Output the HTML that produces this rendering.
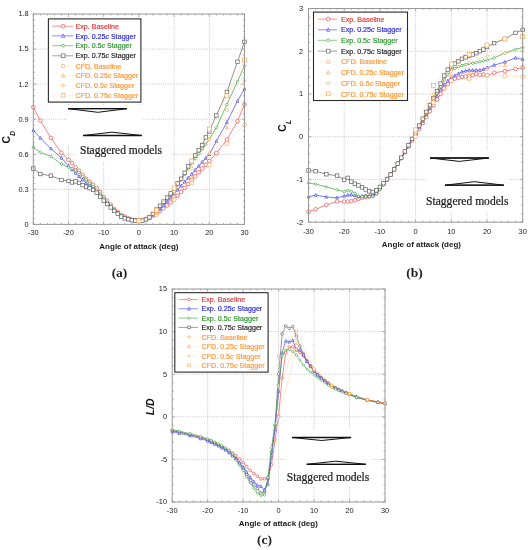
<!DOCTYPE html>
<html lang="en"><head><meta charset="utf-8"><title>Staggered models: aerodynamic coefficients</title>
<style>html,body{margin:0;padding:0;background:#fff}body{width:528px;height:550px;overflow:hidden}svg text{white-space:pre}</style></head>
<body>
<svg width="528" height="550" viewBox="0 0 528 550" style="display:block">
<rect width="528" height="550" fill="#fff"/>
<g><line x1="68.50" y1="14.0" x2="68.50" y2="224.4" stroke="#b4b4b4" stroke-width="0.8" stroke-dasharray="0.9 1.3"/>
<line x1="103.70" y1="14.0" x2="103.70" y2="224.4" stroke="#b4b4b4" stroke-width="0.8" stroke-dasharray="0.9 1.3"/>
<line x1="138.90" y1="14.0" x2="138.90" y2="224.4" stroke="#b4b4b4" stroke-width="0.8" stroke-dasharray="0.9 1.3"/>
<line x1="174.10" y1="14.0" x2="174.10" y2="224.4" stroke="#b4b4b4" stroke-width="0.8" stroke-dasharray="0.9 1.3"/>
<line x1="209.30" y1="14.0" x2="209.30" y2="224.4" stroke="#b4b4b4" stroke-width="0.8" stroke-dasharray="0.9 1.3"/>
<line x1="33.3" y1="189.33" x2="244.5" y2="189.33" stroke="#b4b4b4" stroke-width="0.8" stroke-dasharray="0.9 1.3"/>
<line x1="33.3" y1="154.27" x2="244.5" y2="154.27" stroke="#b4b4b4" stroke-width="0.8" stroke-dasharray="0.9 1.3"/>
<line x1="33.3" y1="119.20" x2="244.5" y2="119.20" stroke="#b4b4b4" stroke-width="0.8" stroke-dasharray="0.9 1.3"/>
<line x1="33.3" y1="84.13" x2="244.5" y2="84.13" stroke="#b4b4b4" stroke-width="0.8" stroke-dasharray="0.9 1.3"/>
<line x1="33.3" y1="49.07" x2="244.5" y2="49.07" stroke="#b4b4b4" stroke-width="0.8" stroke-dasharray="0.9 1.3"/>
<path d="M33.30 224.4v-2.6M33.30 14.0v2.6M40.34 224.4v-1.5M40.34 14.0v1.5M47.38 224.4v-1.5M47.38 14.0v1.5M54.42 224.4v-1.5M54.42 14.0v1.5M61.46 224.4v-1.5M61.46 14.0v1.5M68.50 224.4v-2.6M68.50 14.0v2.6M75.54 224.4v-1.5M75.54 14.0v1.5M82.58 224.4v-1.5M82.58 14.0v1.5M89.62 224.4v-1.5M89.62 14.0v1.5M96.66 224.4v-1.5M96.66 14.0v1.5M103.70 224.4v-2.6M103.70 14.0v2.6M110.74 224.4v-1.5M110.74 14.0v1.5M117.78 224.4v-1.5M117.78 14.0v1.5M124.82 224.4v-1.5M124.82 14.0v1.5M131.86 224.4v-1.5M131.86 14.0v1.5M138.90 224.4v-2.6M138.90 14.0v2.6M145.94 224.4v-1.5M145.94 14.0v1.5M152.98 224.4v-1.5M152.98 14.0v1.5M160.02 224.4v-1.5M160.02 14.0v1.5M167.06 224.4v-1.5M167.06 14.0v1.5M174.10 224.4v-2.6M174.10 14.0v2.6M181.14 224.4v-1.5M181.14 14.0v1.5M188.18 224.4v-1.5M188.18 14.0v1.5M195.22 224.4v-1.5M195.22 14.0v1.5M202.26 224.4v-1.5M202.26 14.0v1.5M209.30 224.4v-2.6M209.30 14.0v2.6M216.34 224.4v-1.5M216.34 14.0v1.5M223.38 224.4v-1.5M223.38 14.0v1.5M230.42 224.4v-1.5M230.42 14.0v1.5M237.46 224.4v-1.5M237.46 14.0v1.5M244.50 224.4v-2.6M244.50 14.0v2.6M33.3 224.40h2.6M244.5 224.40h-2.6M33.3 218.56h1.5M244.5 218.56h-1.5M33.3 212.71h1.5M244.5 212.71h-1.5M33.3 206.87h1.5M244.5 206.87h-1.5M33.3 201.02h1.5M244.5 201.02h-1.5M33.3 195.18h1.5M244.5 195.18h-1.5M33.3 189.33h2.6M244.5 189.33h-2.6M33.3 183.49h1.5M244.5 183.49h-1.5M33.3 177.64h1.5M244.5 177.64h-1.5M33.3 171.80h1.5M244.5 171.80h-1.5M33.3 165.96h1.5M244.5 165.96h-1.5M33.3 160.11h1.5M244.5 160.11h-1.5M33.3 154.27h2.6M244.5 154.27h-2.6M33.3 148.42h1.5M244.5 148.42h-1.5M33.3 142.58h1.5M244.5 142.58h-1.5M33.3 136.73h1.5M244.5 136.73h-1.5M33.3 130.89h1.5M244.5 130.89h-1.5M33.3 125.04h1.5M244.5 125.04h-1.5M33.3 119.20h2.6M244.5 119.20h-2.6M33.3 113.36h1.5M244.5 113.36h-1.5M33.3 107.51h1.5M244.5 107.51h-1.5M33.3 101.67h1.5M244.5 101.67h-1.5M33.3 95.82h1.5M244.5 95.82h-1.5M33.3 89.98h1.5M244.5 89.98h-1.5M33.3 84.13h2.6M244.5 84.13h-2.6M33.3 78.29h1.5M244.5 78.29h-1.5M33.3 72.44h1.5M244.5 72.44h-1.5M33.3 66.60h1.5M244.5 66.60h-1.5M33.3 60.76h1.5M244.5 60.76h-1.5M33.3 54.91h1.5M244.5 54.91h-1.5M33.3 49.07h2.6M244.5 49.07h-2.6M33.3 43.22h1.5M244.5 43.22h-1.5M33.3 37.38h1.5M244.5 37.38h-1.5M33.3 31.53h1.5M244.5 31.53h-1.5M33.3 25.69h1.5M244.5 25.69h-1.5M33.3 19.84h1.5M244.5 19.84h-1.5M33.3 14.00h2.6M244.5 14.00h-2.6" stroke="#979797" stroke-width="0.8" fill="none"/>
<polyline points="33.30,107.16 40.34,120.49 50.90,137.90 61.46,152.75 68.50,159.76 72.02,163.03 75.54,167.24 79.06,170.75 82.58,174.72 86.10,178.81 89.62,181.74 93.14,184.77 96.66,188.16 100.18,192.14 103.70,197.28 107.22,200.67 110.74,204.65 114.26,209.20 117.78,212.01 121.30,214.93 124.82,216.57 128.34,218.32 131.86,219.49 135.38,220.19 138.90,220.54 142.42,220.31 145.94,219.49 149.46,217.97 152.98,215.63 156.50,213.30 160.02,210.96 163.54,208.27 167.06,205.46 170.58,202.42 174.10,199.39 177.62,195.76 181.14,191.90 184.66,187.93 188.18,183.96 191.70,179.98 195.22,176.24 198.74,172.38 202.26,168.53 205.78,164.79 209.30,161.05 216.34,153.10 226.90,139.66 237.46,121.19 244.50,104.47" fill="none" stroke="#f04e4e" stroke-width="0.7"/>
<circle cx="33.30" cy="107.16" r="1.85" fill="#fff" stroke="#f04e4e" stroke-width="0.7"/>
<circle cx="40.34" cy="120.49" r="1.85" fill="#fff" stroke="#f04e4e" stroke-width="0.7"/>
<circle cx="50.90" cy="137.90" r="1.85" fill="#fff" stroke="#f04e4e" stroke-width="0.7"/>
<circle cx="61.46" cy="152.75" r="1.85" fill="#fff" stroke="#f04e4e" stroke-width="0.7"/>
<circle cx="68.50" cy="159.76" r="1.85" fill="#fff" stroke="#f04e4e" stroke-width="0.7"/>
<circle cx="72.02" cy="163.03" r="1.85" fill="#fff" stroke="#f04e4e" stroke-width="0.7"/>
<circle cx="75.54" cy="167.24" r="1.85" fill="#fff" stroke="#f04e4e" stroke-width="0.7"/>
<circle cx="79.06" cy="170.75" r="1.85" fill="#fff" stroke="#f04e4e" stroke-width="0.7"/>
<circle cx="82.58" cy="174.72" r="1.85" fill="#fff" stroke="#f04e4e" stroke-width="0.7"/>
<circle cx="86.10" cy="178.81" r="1.85" fill="#fff" stroke="#f04e4e" stroke-width="0.7"/>
<circle cx="89.62" cy="181.74" r="1.85" fill="#fff" stroke="#f04e4e" stroke-width="0.7"/>
<circle cx="93.14" cy="184.77" r="1.85" fill="#fff" stroke="#f04e4e" stroke-width="0.7"/>
<circle cx="96.66" cy="188.16" r="1.85" fill="#fff" stroke="#f04e4e" stroke-width="0.7"/>
<circle cx="100.18" cy="192.14" r="1.85" fill="#fff" stroke="#f04e4e" stroke-width="0.7"/>
<circle cx="103.70" cy="197.28" r="1.85" fill="#fff" stroke="#f04e4e" stroke-width="0.7"/>
<circle cx="107.22" cy="200.67" r="1.85" fill="#fff" stroke="#f04e4e" stroke-width="0.7"/>
<circle cx="110.74" cy="204.65" r="1.85" fill="#fff" stroke="#f04e4e" stroke-width="0.7"/>
<circle cx="114.26" cy="209.20" r="1.85" fill="#fff" stroke="#f04e4e" stroke-width="0.7"/>
<circle cx="117.78" cy="212.01" r="1.85" fill="#fff" stroke="#f04e4e" stroke-width="0.7"/>
<circle cx="121.30" cy="214.93" r="1.85" fill="#fff" stroke="#f04e4e" stroke-width="0.7"/>
<circle cx="124.82" cy="216.57" r="1.85" fill="#fff" stroke="#f04e4e" stroke-width="0.7"/>
<circle cx="128.34" cy="218.32" r="1.85" fill="#fff" stroke="#f04e4e" stroke-width="0.7"/>
<circle cx="131.86" cy="219.49" r="1.85" fill="#fff" stroke="#f04e4e" stroke-width="0.7"/>
<circle cx="135.38" cy="220.19" r="1.85" fill="#fff" stroke="#f04e4e" stroke-width="0.7"/>
<circle cx="138.90" cy="220.54" r="1.85" fill="#fff" stroke="#f04e4e" stroke-width="0.7"/>
<circle cx="142.42" cy="220.31" r="1.85" fill="#fff" stroke="#f04e4e" stroke-width="0.7"/>
<circle cx="145.94" cy="219.49" r="1.85" fill="#fff" stroke="#f04e4e" stroke-width="0.7"/>
<circle cx="149.46" cy="217.97" r="1.85" fill="#fff" stroke="#f04e4e" stroke-width="0.7"/>
<circle cx="152.98" cy="215.63" r="1.85" fill="#fff" stroke="#f04e4e" stroke-width="0.7"/>
<circle cx="156.50" cy="213.30" r="1.85" fill="#fff" stroke="#f04e4e" stroke-width="0.7"/>
<circle cx="160.02" cy="210.96" r="1.85" fill="#fff" stroke="#f04e4e" stroke-width="0.7"/>
<circle cx="163.54" cy="208.27" r="1.85" fill="#fff" stroke="#f04e4e" stroke-width="0.7"/>
<circle cx="167.06" cy="205.46" r="1.85" fill="#fff" stroke="#f04e4e" stroke-width="0.7"/>
<circle cx="170.58" cy="202.42" r="1.85" fill="#fff" stroke="#f04e4e" stroke-width="0.7"/>
<circle cx="174.10" cy="199.39" r="1.85" fill="#fff" stroke="#f04e4e" stroke-width="0.7"/>
<circle cx="177.62" cy="195.76" r="1.85" fill="#fff" stroke="#f04e4e" stroke-width="0.7"/>
<circle cx="181.14" cy="191.90" r="1.85" fill="#fff" stroke="#f04e4e" stroke-width="0.7"/>
<circle cx="184.66" cy="187.93" r="1.85" fill="#fff" stroke="#f04e4e" stroke-width="0.7"/>
<circle cx="188.18" cy="183.96" r="1.85" fill="#fff" stroke="#f04e4e" stroke-width="0.7"/>
<circle cx="191.70" cy="179.98" r="1.85" fill="#fff" stroke="#f04e4e" stroke-width="0.7"/>
<circle cx="195.22" cy="176.24" r="1.85" fill="#fff" stroke="#f04e4e" stroke-width="0.7"/>
<circle cx="198.74" cy="172.38" r="1.85" fill="#fff" stroke="#f04e4e" stroke-width="0.7"/>
<circle cx="202.26" cy="168.53" r="1.85" fill="#fff" stroke="#f04e4e" stroke-width="0.7"/>
<circle cx="205.78" cy="164.79" r="1.85" fill="#fff" stroke="#f04e4e" stroke-width="0.7"/>
<circle cx="209.30" cy="161.05" r="1.85" fill="#fff" stroke="#f04e4e" stroke-width="0.7"/>
<circle cx="216.34" cy="153.10" r="1.85" fill="#fff" stroke="#f04e4e" stroke-width="0.7"/>
<circle cx="226.90" cy="139.66" r="1.85" fill="#fff" stroke="#f04e4e" stroke-width="0.7"/>
<circle cx="237.46" cy="121.19" r="1.85" fill="#fff" stroke="#f04e4e" stroke-width="0.7"/>
<circle cx="244.50" cy="104.47" r="1.85" fill="#fff" stroke="#f04e4e" stroke-width="0.7"/>
<polyline points="33.30,130.30 40.34,137.90 50.90,148.54 61.46,158.01 68.50,165.96 72.02,169.46 75.54,172.97 79.06,176.48 82.58,179.75 86.10,183.26 89.62,185.48 93.14,188.16 96.66,191.09 100.18,194.94 103.70,199.27 107.22,202.78 110.74,206.28 114.26,210.14 117.78,212.94 121.30,215.75 124.82,217.62 128.34,218.91 131.86,219.84 135.38,220.43 138.90,220.78 142.42,220.43 145.94,219.37 149.46,217.62 152.98,215.05 156.50,212.13 160.02,209.20 163.54,205.70 167.06,201.84 170.58,197.75 174.10,193.66 177.62,189.80 181.14,185.83 184.66,181.85 188.18,177.88 191.70,174.02 195.22,170.05 198.74,166.07 202.26,162.10 205.78,158.12 209.30,154.27 216.34,141.18 226.90,122.24 237.46,101.08 244.50,88.81" fill="none" stroke="#4040f2" stroke-width="0.7"/>
<path d="M33.30 128.71L34.63 131.50L31.97 131.50Z" fill="#fff" stroke="#4040f2" stroke-width="0.7"/>
<path d="M40.34 136.30L41.67 139.10L39.01 139.10Z" fill="#fff" stroke="#4040f2" stroke-width="0.7"/>
<path d="M50.90 146.94L52.23 149.74L49.57 149.74Z" fill="#fff" stroke="#4040f2" stroke-width="0.7"/>
<path d="M61.46 156.41L62.79 159.21L60.13 159.21Z" fill="#fff" stroke="#4040f2" stroke-width="0.7"/>
<path d="M68.50 164.36L69.83 167.15L67.17 167.15Z" fill="#fff" stroke="#4040f2" stroke-width="0.7"/>
<path d="M72.02 167.86L73.35 170.66L70.69 170.66Z" fill="#fff" stroke="#4040f2" stroke-width="0.7"/>
<path d="M75.54 171.37L76.87 174.17L74.21 174.17Z" fill="#fff" stroke="#4040f2" stroke-width="0.7"/>
<path d="M79.06 174.88L80.39 177.67L77.73 177.67Z" fill="#fff" stroke="#4040f2" stroke-width="0.7"/>
<path d="M82.58 178.15L83.91 180.95L81.25 180.95Z" fill="#fff" stroke="#4040f2" stroke-width="0.7"/>
<path d="M86.10 181.66L87.43 184.45L84.77 184.45Z" fill="#fff" stroke="#4040f2" stroke-width="0.7"/>
<path d="M89.62 183.88L90.95 186.67L88.29 186.67Z" fill="#fff" stroke="#4040f2" stroke-width="0.7"/>
<path d="M93.14 186.57L94.47 189.36L91.81 189.36Z" fill="#fff" stroke="#4040f2" stroke-width="0.7"/>
<path d="M96.66 189.49L97.99 192.29L95.33 192.29Z" fill="#fff" stroke="#4040f2" stroke-width="0.7"/>
<path d="M100.18 193.35L101.51 196.14L98.85 196.14Z" fill="#fff" stroke="#4040f2" stroke-width="0.7"/>
<path d="M103.70 197.67L105.03 200.47L102.37 200.47Z" fill="#fff" stroke="#4040f2" stroke-width="0.7"/>
<path d="M107.22 201.18L108.55 203.97L105.89 203.97Z" fill="#fff" stroke="#4040f2" stroke-width="0.7"/>
<path d="M110.74 204.68L112.07 207.48L109.41 207.48Z" fill="#fff" stroke="#4040f2" stroke-width="0.7"/>
<path d="M114.26 208.54L115.59 211.34L112.93 211.34Z" fill="#fff" stroke="#4040f2" stroke-width="0.7"/>
<path d="M117.78 211.35L119.11 214.14L116.45 214.14Z" fill="#fff" stroke="#4040f2" stroke-width="0.7"/>
<path d="M121.30 214.15L122.63 216.95L119.97 216.95Z" fill="#fff" stroke="#4040f2" stroke-width="0.7"/>
<path d="M124.82 216.02L126.15 218.82L123.49 218.82Z" fill="#fff" stroke="#4040f2" stroke-width="0.7"/>
<path d="M128.34 217.31L129.67 220.11L127.01 220.11Z" fill="#fff" stroke="#4040f2" stroke-width="0.7"/>
<path d="M131.86 218.24L133.19 221.04L130.53 221.04Z" fill="#fff" stroke="#4040f2" stroke-width="0.7"/>
<path d="M135.38 218.83L136.71 221.62L134.05 221.62Z" fill="#fff" stroke="#4040f2" stroke-width="0.7"/>
<path d="M138.90 219.18L140.23 221.98L137.57 221.98Z" fill="#fff" stroke="#4040f2" stroke-width="0.7"/>
<path d="M142.42 218.83L143.75 221.62L141.09 221.62Z" fill="#fff" stroke="#4040f2" stroke-width="0.7"/>
<path d="M145.94 217.78L147.27 220.57L144.61 220.57Z" fill="#fff" stroke="#4040f2" stroke-width="0.7"/>
<path d="M149.46 216.02L150.79 218.82L148.13 218.82Z" fill="#fff" stroke="#4040f2" stroke-width="0.7"/>
<path d="M152.98 213.45L154.31 216.25L151.65 216.25Z" fill="#fff" stroke="#4040f2" stroke-width="0.7"/>
<path d="M156.50 210.53L157.83 213.33L155.17 213.33Z" fill="#fff" stroke="#4040f2" stroke-width="0.7"/>
<path d="M160.02 207.61L161.35 210.40L158.69 210.40Z" fill="#fff" stroke="#4040f2" stroke-width="0.7"/>
<path d="M163.54 204.10L164.87 206.90L162.21 206.90Z" fill="#fff" stroke="#4040f2" stroke-width="0.7"/>
<path d="M167.06 200.24L168.39 203.04L165.73 203.04Z" fill="#fff" stroke="#4040f2" stroke-width="0.7"/>
<path d="M170.58 196.15L171.91 198.95L169.25 198.95Z" fill="#fff" stroke="#4040f2" stroke-width="0.7"/>
<path d="M174.10 192.06L175.43 194.86L172.77 194.86Z" fill="#fff" stroke="#4040f2" stroke-width="0.7"/>
<path d="M177.62 188.20L178.95 191.00L176.29 191.00Z" fill="#fff" stroke="#4040f2" stroke-width="0.7"/>
<path d="M181.14 184.23L182.47 187.03L179.81 187.03Z" fill="#fff" stroke="#4040f2" stroke-width="0.7"/>
<path d="M184.66 180.25L185.99 183.05L183.33 183.05Z" fill="#fff" stroke="#4040f2" stroke-width="0.7"/>
<path d="M188.18 176.28L189.51 179.08L186.85 179.08Z" fill="#fff" stroke="#4040f2" stroke-width="0.7"/>
<path d="M191.70 172.42L193.03 175.22L190.37 175.22Z" fill="#fff" stroke="#4040f2" stroke-width="0.7"/>
<path d="M195.22 168.45L196.55 171.25L193.89 171.25Z" fill="#fff" stroke="#4040f2" stroke-width="0.7"/>
<path d="M198.74 164.47L200.07 167.27L197.41 167.27Z" fill="#fff" stroke="#4040f2" stroke-width="0.7"/>
<path d="M202.26 160.50L203.59 163.30L200.93 163.30Z" fill="#fff" stroke="#4040f2" stroke-width="0.7"/>
<path d="M205.78 156.53L207.11 159.32L204.45 159.32Z" fill="#fff" stroke="#4040f2" stroke-width="0.7"/>
<path d="M209.30 152.67L210.63 155.47L207.97 155.47Z" fill="#fff" stroke="#4040f2" stroke-width="0.7"/>
<path d="M216.34 139.58L217.67 142.37L215.01 142.37Z" fill="#fff" stroke="#4040f2" stroke-width="0.7"/>
<path d="M226.90 120.64L228.23 123.44L225.57 123.44Z" fill="#fff" stroke="#4040f2" stroke-width="0.7"/>
<path d="M237.46 99.48L238.79 102.28L236.13 102.28Z" fill="#fff" stroke="#4040f2" stroke-width="0.7"/>
<path d="M244.50 87.21L245.83 90.01L243.17 90.01Z" fill="#fff" stroke="#4040f2" stroke-width="0.7"/>
<polyline points="33.30,147.02 40.34,152.28 50.90,156.37 61.46,164.09 68.50,167.36 72.02,168.29 75.54,170.28 79.06,172.62 82.58,176.48 86.10,179.75 89.62,183.26 93.14,186.18 96.66,189.92 100.18,194.01 103.70,198.45 107.22,202.19 110.74,205.93 114.26,209.79 117.78,212.71 121.30,215.52 124.82,217.39 128.34,218.79 131.86,219.72 135.38,220.31 138.90,220.66 142.42,220.31 145.94,219.14 149.46,217.15 152.98,214.11 156.50,210.37 160.02,206.87 163.54,203.01 167.06,198.92 170.58,194.83 174.10,190.62 177.62,185.24 181.14,179.98 184.66,174.49 188.18,168.88 191.70,163.38 195.22,158.36 198.74,153.68 202.26,149.01 205.78,144.21 209.30,139.07 216.34,127.62 226.90,104.47 237.46,81.44 244.50,65.66" fill="none" stroke="#3aa43a" stroke-width="0.7"/>
<path d="M33.30 145.54L34.78 147.02L33.30 148.50L31.82 147.02Z" fill="#fff" stroke="#3aa43a" stroke-width="0.7"/>
<path d="M40.34 150.80L41.82 152.28L40.34 153.76L38.86 152.28Z" fill="#fff" stroke="#3aa43a" stroke-width="0.7"/>
<path d="M50.90 154.89L52.38 156.37L50.90 157.85L49.42 156.37Z" fill="#fff" stroke="#3aa43a" stroke-width="0.7"/>
<path d="M61.46 162.61L62.94 164.09L61.46 165.57L59.98 164.09Z" fill="#fff" stroke="#3aa43a" stroke-width="0.7"/>
<path d="M68.50 165.88L69.98 167.36L68.50 168.84L67.02 167.36Z" fill="#fff" stroke="#3aa43a" stroke-width="0.7"/>
<path d="M72.02 166.81L73.50 168.29L72.02 169.77L70.54 168.29Z" fill="#fff" stroke="#3aa43a" stroke-width="0.7"/>
<path d="M75.54 168.80L77.02 170.28L75.54 171.76L74.06 170.28Z" fill="#fff" stroke="#3aa43a" stroke-width="0.7"/>
<path d="M79.06 171.14L80.54 172.62L79.06 174.10L77.58 172.62Z" fill="#fff" stroke="#3aa43a" stroke-width="0.7"/>
<path d="M82.58 175.00L84.06 176.48L82.58 177.96L81.10 176.48Z" fill="#fff" stroke="#3aa43a" stroke-width="0.7"/>
<path d="M86.10 178.27L87.58 179.75L86.10 181.23L84.62 179.75Z" fill="#fff" stroke="#3aa43a" stroke-width="0.7"/>
<path d="M89.62 181.78L91.10 183.26L89.62 184.74L88.14 183.26Z" fill="#fff" stroke="#3aa43a" stroke-width="0.7"/>
<path d="M93.14 184.70L94.62 186.18L93.14 187.66L91.66 186.18Z" fill="#fff" stroke="#3aa43a" stroke-width="0.7"/>
<path d="M96.66 188.44L98.14 189.92L96.66 191.40L95.18 189.92Z" fill="#fff" stroke="#3aa43a" stroke-width="0.7"/>
<path d="M100.18 192.53L101.66 194.01L100.18 195.49L98.70 194.01Z" fill="#fff" stroke="#3aa43a" stroke-width="0.7"/>
<path d="M103.70 196.97L105.18 198.45L103.70 199.93L102.22 198.45Z" fill="#fff" stroke="#3aa43a" stroke-width="0.7"/>
<path d="M107.22 200.71L108.70 202.19L107.22 203.67L105.74 202.19Z" fill="#fff" stroke="#3aa43a" stroke-width="0.7"/>
<path d="M110.74 204.45L112.22 205.93L110.74 207.41L109.26 205.93Z" fill="#fff" stroke="#3aa43a" stroke-width="0.7"/>
<path d="M114.26 208.31L115.74 209.79L114.26 211.27L112.78 209.79Z" fill="#fff" stroke="#3aa43a" stroke-width="0.7"/>
<path d="M117.78 211.23L119.26 212.71L117.78 214.19L116.30 212.71Z" fill="#fff" stroke="#3aa43a" stroke-width="0.7"/>
<path d="M121.30 214.04L122.78 215.52L121.30 217.00L119.82 215.52Z" fill="#fff" stroke="#3aa43a" stroke-width="0.7"/>
<path d="M124.82 215.91L126.30 217.39L124.82 218.87L123.34 217.39Z" fill="#fff" stroke="#3aa43a" stroke-width="0.7"/>
<path d="M128.34 217.31L129.82 218.79L128.34 220.27L126.86 218.79Z" fill="#fff" stroke="#3aa43a" stroke-width="0.7"/>
<path d="M131.86 218.24L133.34 219.72L131.86 221.20L130.38 219.72Z" fill="#fff" stroke="#3aa43a" stroke-width="0.7"/>
<path d="M135.38 218.83L136.86 220.31L135.38 221.79L133.90 220.31Z" fill="#fff" stroke="#3aa43a" stroke-width="0.7"/>
<path d="M138.90 219.18L140.38 220.66L138.90 222.14L137.42 220.66Z" fill="#fff" stroke="#3aa43a" stroke-width="0.7"/>
<path d="M142.42 218.83L143.90 220.31L142.42 221.79L140.94 220.31Z" fill="#fff" stroke="#3aa43a" stroke-width="0.7"/>
<path d="M145.94 217.66L147.42 219.14L145.94 220.62L144.46 219.14Z" fill="#fff" stroke="#3aa43a" stroke-width="0.7"/>
<path d="M149.46 215.67L150.94 217.15L149.46 218.63L147.98 217.15Z" fill="#fff" stroke="#3aa43a" stroke-width="0.7"/>
<path d="M152.98 212.63L154.46 214.11L152.98 215.59L151.50 214.11Z" fill="#fff" stroke="#3aa43a" stroke-width="0.7"/>
<path d="M156.50 208.89L157.98 210.37L156.50 211.85L155.02 210.37Z" fill="#fff" stroke="#3aa43a" stroke-width="0.7"/>
<path d="M160.02 205.39L161.50 206.87L160.02 208.35L158.54 206.87Z" fill="#fff" stroke="#3aa43a" stroke-width="0.7"/>
<path d="M163.54 201.53L165.02 203.01L163.54 204.49L162.06 203.01Z" fill="#fff" stroke="#3aa43a" stroke-width="0.7"/>
<path d="M167.06 197.44L168.54 198.92L167.06 200.40L165.58 198.92Z" fill="#fff" stroke="#3aa43a" stroke-width="0.7"/>
<path d="M170.58 193.35L172.06 194.83L170.58 196.31L169.10 194.83Z" fill="#fff" stroke="#3aa43a" stroke-width="0.7"/>
<path d="M174.10 189.14L175.58 190.62L174.10 192.10L172.62 190.62Z" fill="#fff" stroke="#3aa43a" stroke-width="0.7"/>
<path d="M177.62 183.76L179.10 185.24L177.62 186.72L176.14 185.24Z" fill="#fff" stroke="#3aa43a" stroke-width="0.7"/>
<path d="M181.14 178.50L182.62 179.98L181.14 181.46L179.66 179.98Z" fill="#fff" stroke="#3aa43a" stroke-width="0.7"/>
<path d="M184.66 173.01L186.14 174.49L184.66 175.97L183.18 174.49Z" fill="#fff" stroke="#3aa43a" stroke-width="0.7"/>
<path d="M188.18 167.40L189.66 168.88L188.18 170.36L186.70 168.88Z" fill="#fff" stroke="#3aa43a" stroke-width="0.7"/>
<path d="M191.70 161.90L193.18 163.38L191.70 164.86L190.22 163.38Z" fill="#fff" stroke="#3aa43a" stroke-width="0.7"/>
<path d="M195.22 156.88L196.70 158.36L195.22 159.84L193.74 158.36Z" fill="#fff" stroke="#3aa43a" stroke-width="0.7"/>
<path d="M198.74 152.20L200.22 153.68L198.74 155.16L197.26 153.68Z" fill="#fff" stroke="#3aa43a" stroke-width="0.7"/>
<path d="M202.26 147.53L203.74 149.01L202.26 150.49L200.78 149.01Z" fill="#fff" stroke="#3aa43a" stroke-width="0.7"/>
<path d="M205.78 142.73L207.26 144.21L205.78 145.69L204.30 144.21Z" fill="#fff" stroke="#3aa43a" stroke-width="0.7"/>
<path d="M209.30 137.59L210.78 139.07L209.30 140.55L207.82 139.07Z" fill="#fff" stroke="#3aa43a" stroke-width="0.7"/>
<path d="M216.34 126.14L217.82 127.62L216.34 129.10L214.86 127.62Z" fill="#fff" stroke="#3aa43a" stroke-width="0.7"/>
<path d="M226.90 102.99L228.38 104.47L226.90 105.95L225.42 104.47Z" fill="#fff" stroke="#3aa43a" stroke-width="0.7"/>
<path d="M237.46 79.96L238.94 81.44L237.46 82.92L235.98 81.44Z" fill="#fff" stroke="#3aa43a" stroke-width="0.7"/>
<path d="M244.50 64.18L245.98 65.66L244.50 67.14L243.02 65.66Z" fill="#fff" stroke="#3aa43a" stroke-width="0.7"/>
<polyline points="33.30,168.53 40.34,174.02 50.90,175.66 61.46,179.98 68.50,180.92 72.02,182.44 75.54,181.38 79.06,182.90 82.58,185.13 86.10,186.64 89.62,188.16 93.14,189.92 96.66,192.72 100.18,196.70 103.70,200.67 107.22,204.06 110.74,207.45 114.26,210.96 117.78,213.76 121.30,216.57 124.82,218.32 128.34,219.37 131.86,220.19 135.38,220.66 138.90,220.89 142.42,220.54 145.94,219.37 149.46,217.39 152.98,213.88 156.50,209.56 160.02,205.70 163.54,201.61 167.06,197.52 170.58,193.42 174.10,189.33 177.62,183.37 181.14,178.81 184.66,172.85 188.18,166.42 191.70,161.05 195.22,155.44 198.74,150.18 202.26,145.03 205.78,137.43 209.30,131.36 216.34,115.46 226.90,91.96 237.46,61.81 244.50,41.82" fill="none" stroke="#606060" stroke-width="0.7"/>
<rect x="31.54" y="166.77" width="3.52" height="3.52" fill="#fff" stroke="#606060" stroke-width="0.7"/>
<rect x="38.58" y="172.26" width="3.52" height="3.52" fill="#fff" stroke="#606060" stroke-width="0.7"/>
<rect x="49.14" y="173.90" width="3.52" height="3.52" fill="#fff" stroke="#606060" stroke-width="0.7"/>
<rect x="59.70" y="178.22" width="3.52" height="3.52" fill="#fff" stroke="#606060" stroke-width="0.7"/>
<rect x="66.74" y="179.16" width="3.52" height="3.52" fill="#fff" stroke="#606060" stroke-width="0.7"/>
<rect x="70.26" y="180.68" width="3.52" height="3.52" fill="#fff" stroke="#606060" stroke-width="0.7"/>
<rect x="73.78" y="179.63" width="3.52" height="3.52" fill="#fff" stroke="#606060" stroke-width="0.7"/>
<rect x="77.30" y="181.15" width="3.52" height="3.52" fill="#fff" stroke="#606060" stroke-width="0.7"/>
<rect x="80.82" y="183.37" width="3.52" height="3.52" fill="#fff" stroke="#606060" stroke-width="0.7"/>
<rect x="84.34" y="184.89" width="3.52" height="3.52" fill="#fff" stroke="#606060" stroke-width="0.7"/>
<rect x="87.86" y="186.41" width="3.52" height="3.52" fill="#fff" stroke="#606060" stroke-width="0.7"/>
<rect x="91.38" y="188.16" width="3.52" height="3.52" fill="#fff" stroke="#606060" stroke-width="0.7"/>
<rect x="94.90" y="190.97" width="3.52" height="3.52" fill="#fff" stroke="#606060" stroke-width="0.7"/>
<rect x="98.42" y="194.94" width="3.52" height="3.52" fill="#fff" stroke="#606060" stroke-width="0.7"/>
<rect x="101.94" y="198.91" width="3.52" height="3.52" fill="#fff" stroke="#606060" stroke-width="0.7"/>
<rect x="105.46" y="202.30" width="3.52" height="3.52" fill="#fff" stroke="#606060" stroke-width="0.7"/>
<rect x="108.98" y="205.69" width="3.52" height="3.52" fill="#fff" stroke="#606060" stroke-width="0.7"/>
<rect x="112.50" y="209.20" width="3.52" height="3.52" fill="#fff" stroke="#606060" stroke-width="0.7"/>
<rect x="116.02" y="212.01" width="3.52" height="3.52" fill="#fff" stroke="#606060" stroke-width="0.7"/>
<rect x="119.54" y="214.81" width="3.52" height="3.52" fill="#fff" stroke="#606060" stroke-width="0.7"/>
<rect x="123.06" y="216.56" width="3.52" height="3.52" fill="#fff" stroke="#606060" stroke-width="0.7"/>
<rect x="126.58" y="217.62" width="3.52" height="3.52" fill="#fff" stroke="#606060" stroke-width="0.7"/>
<rect x="130.10" y="218.43" width="3.52" height="3.52" fill="#fff" stroke="#606060" stroke-width="0.7"/>
<rect x="133.62" y="218.90" width="3.52" height="3.52" fill="#fff" stroke="#606060" stroke-width="0.7"/>
<rect x="137.14" y="219.14" width="3.52" height="3.52" fill="#fff" stroke="#606060" stroke-width="0.7"/>
<rect x="140.66" y="218.79" width="3.52" height="3.52" fill="#fff" stroke="#606060" stroke-width="0.7"/>
<rect x="144.18" y="217.62" width="3.52" height="3.52" fill="#fff" stroke="#606060" stroke-width="0.7"/>
<rect x="147.70" y="215.63" width="3.52" height="3.52" fill="#fff" stroke="#606060" stroke-width="0.7"/>
<rect x="151.22" y="212.12" width="3.52" height="3.52" fill="#fff" stroke="#606060" stroke-width="0.7"/>
<rect x="154.74" y="207.80" width="3.52" height="3.52" fill="#fff" stroke="#606060" stroke-width="0.7"/>
<rect x="158.26" y="203.94" width="3.52" height="3.52" fill="#fff" stroke="#606060" stroke-width="0.7"/>
<rect x="161.78" y="199.85" width="3.52" height="3.52" fill="#fff" stroke="#606060" stroke-width="0.7"/>
<rect x="165.30" y="195.76" width="3.52" height="3.52" fill="#fff" stroke="#606060" stroke-width="0.7"/>
<rect x="168.82" y="191.67" width="3.52" height="3.52" fill="#fff" stroke="#606060" stroke-width="0.7"/>
<rect x="172.34" y="187.58" width="3.52" height="3.52" fill="#fff" stroke="#606060" stroke-width="0.7"/>
<rect x="175.86" y="181.61" width="3.52" height="3.52" fill="#fff" stroke="#606060" stroke-width="0.7"/>
<rect x="179.38" y="177.06" width="3.52" height="3.52" fill="#fff" stroke="#606060" stroke-width="0.7"/>
<rect x="182.90" y="171.09" width="3.52" height="3.52" fill="#fff" stroke="#606060" stroke-width="0.7"/>
<rect x="186.42" y="164.67" width="3.52" height="3.52" fill="#fff" stroke="#606060" stroke-width="0.7"/>
<rect x="189.94" y="159.29" width="3.52" height="3.52" fill="#fff" stroke="#606060" stroke-width="0.7"/>
<rect x="193.46" y="153.68" width="3.52" height="3.52" fill="#fff" stroke="#606060" stroke-width="0.7"/>
<rect x="196.98" y="148.42" width="3.52" height="3.52" fill="#fff" stroke="#606060" stroke-width="0.7"/>
<rect x="200.50" y="143.27" width="3.52" height="3.52" fill="#fff" stroke="#606060" stroke-width="0.7"/>
<rect x="204.02" y="135.68" width="3.52" height="3.52" fill="#fff" stroke="#606060" stroke-width="0.7"/>
<rect x="207.54" y="129.60" width="3.52" height="3.52" fill="#fff" stroke="#606060" stroke-width="0.7"/>
<rect x="214.58" y="113.70" width="3.52" height="3.52" fill="#fff" stroke="#606060" stroke-width="0.7"/>
<rect x="225.14" y="90.21" width="3.52" height="3.52" fill="#fff" stroke="#606060" stroke-width="0.7"/>
<rect x="235.70" y="60.05" width="3.52" height="3.52" fill="#fff" stroke="#606060" stroke-width="0.7"/>
<rect x="242.74" y="40.06" width="3.52" height="3.52" fill="#fff" stroke="#606060" stroke-width="0.7"/>
<polyline points="138.90,220.89 156.50,214.93 174.10,199.85 191.70,183.02 209.30,164.79 226.90,143.86 244.50,124.81" fill="none" stroke="#ff9a3c" stroke-width="0.7" stroke-dasharray="0.8 1.4" opacity="0.75"/>
<circle cx="138.90" cy="220.89" r="2.00" fill="#fff" stroke="#ffa552" stroke-width="0.7"/>
<circle cx="156.50" cy="214.93" r="2.00" fill="#fff" stroke="#ffa552" stroke-width="0.7"/>
<circle cx="174.10" cy="199.85" r="2.00" fill="#fff" stroke="#ffa552" stroke-width="0.7"/>
<circle cx="191.70" cy="183.02" r="2.00" fill="#fff" stroke="#ffa552" stroke-width="0.7"/>
<circle cx="209.30" cy="164.79" r="2.00" fill="#fff" stroke="#ffa552" stroke-width="0.7"/>
<circle cx="226.90" cy="143.86" r="2.00" fill="#fff" stroke="#ffa552" stroke-width="0.7"/>
<circle cx="244.50" cy="124.81" r="2.00" fill="#fff" stroke="#ffa552" stroke-width="0.7"/>
<polyline points="138.90,220.89 156.50,213.30 174.10,196.35 191.70,177.06 209.30,153.10 226.90,127.62 244.50,104.47" fill="none" stroke="#ff9a3c" stroke-width="0.7" stroke-dasharray="0.8 1.4" opacity="0.75"/>
<path d="M138.90 219.17L140.34 222.19L137.46 222.19Z" fill="#fff" stroke="#ffa552" stroke-width="0.7"/>
<path d="M156.50 211.57L157.94 214.59L155.06 214.59Z" fill="#fff" stroke="#ffa552" stroke-width="0.7"/>
<path d="M174.10 194.62L175.54 197.64L172.66 197.64Z" fill="#fff" stroke="#ffa552" stroke-width="0.7"/>
<path d="M191.70 175.33L193.14 178.36L190.26 178.36Z" fill="#fff" stroke="#ffa552" stroke-width="0.7"/>
<path d="M209.30 151.37L210.74 154.39L207.86 154.39Z" fill="#fff" stroke="#ffa552" stroke-width="0.7"/>
<path d="M226.90 125.89L228.34 128.91L225.46 128.91Z" fill="#fff" stroke="#ffa552" stroke-width="0.7"/>
<path d="M244.50 102.74L245.94 105.77L243.06 105.77Z" fill="#fff" stroke="#ffa552" stroke-width="0.7"/>
<polyline points="138.90,220.89 156.50,211.54 174.10,191.67 191.70,168.29 209.30,139.42 226.90,110.20 244.50,80.86" fill="none" stroke="#ff9a3c" stroke-width="0.7" stroke-dasharray="0.8 1.4" opacity="0.75"/>
<path d="M138.90 219.29L140.50 220.89L138.90 222.49L137.30 220.89Z" fill="#fff" stroke="#ffa552" stroke-width="0.7"/>
<path d="M156.50 209.94L158.10 211.54L156.50 213.14L154.90 211.54Z" fill="#fff" stroke="#ffa552" stroke-width="0.7"/>
<path d="M174.10 190.07L175.70 191.67L174.10 193.27L172.50 191.67Z" fill="#fff" stroke="#ffa552" stroke-width="0.7"/>
<path d="M191.70 166.69L193.30 168.29L191.70 169.89L190.10 168.29Z" fill="#fff" stroke="#ffa552" stroke-width="0.7"/>
<path d="M209.30 137.82L210.90 139.42L209.30 141.02L207.70 139.42Z" fill="#fff" stroke="#ffa552" stroke-width="0.7"/>
<path d="M226.90 108.60L228.50 110.20L226.90 111.80L225.30 110.20Z" fill="#fff" stroke="#ffa552" stroke-width="0.7"/>
<path d="M244.50 79.26L246.10 80.86L244.50 82.46L242.90 80.86Z" fill="#fff" stroke="#ffa552" stroke-width="0.7"/>
<polyline points="138.90,220.89 156.50,210.26 174.10,188.05 191.70,161.05 209.30,129.14 226.90,95.82 244.50,60.05" fill="none" stroke="#ff9a3c" stroke-width="0.7" stroke-dasharray="0.8 1.4" opacity="0.75"/>
<rect x="136.90" y="218.89" width="4.00" height="4.00" fill="#fff" stroke="#ffa552" stroke-width="0.7"/>
<rect x="154.50" y="208.26" width="4.00" height="4.00" fill="#fff" stroke="#ffa552" stroke-width="0.7"/>
<rect x="172.10" y="186.05" width="4.00" height="4.00" fill="#fff" stroke="#ffa552" stroke-width="0.7"/>
<rect x="189.70" y="159.05" width="4.00" height="4.00" fill="#fff" stroke="#ffa552" stroke-width="0.7"/>
<rect x="207.30" y="127.14" width="4.00" height="4.00" fill="#fff" stroke="#ffa552" stroke-width="0.7"/>
<rect x="224.90" y="93.82" width="4.00" height="4.00" fill="#fff" stroke="#ffa552" stroke-width="0.7"/>
<rect x="242.50" y="58.05" width="4.00" height="4.00" fill="#fff" stroke="#ffa552" stroke-width="0.7"/>
<rect x="67" y="105" width="75" height="40" fill="#fff"/>
<rect x="75.5" y="144.5" width="96.5" height="17.19999999999999" fill="#fff"/>
<path d="M68.2 108.7L126.8 108.7L97.8 112.3Z" fill="#fff" stroke="#111" stroke-width="1.0" stroke-linejoin="round"/>
<line x1="68.2" y1="108.7" x2="126.8" y2="108.7" stroke="#111" stroke-width="1.3"/>
<path d="M83 135.5L141.8 135.5L112 132.2Z" fill="#fff" stroke="#111" stroke-width="1.0" stroke-linejoin="round"/>
<line x1="83" y1="135.5" x2="141.8" y2="135.5" stroke="#111" stroke-width="1.3"/>
<text x="80" y="153.8" font-family='"Liberation Serif", serif' font-size="11.6" fill="#1c1c1c" stroke="#1c1c1c" stroke-width="0.22" textLength="82" lengthAdjust="spacingAndGlyphs">Staggered models</text>
<rect x="33.3" y="14.0" width="211.20" height="210.40" fill="none" stroke="#979797" stroke-width="1"/>
<rect x="48.4" y="18.9" width="92.50" height="83.20" fill="#fff" stroke="#2a2a2a" stroke-width="1.1"/>
<line x1="52.3" y1="26.2" x2="73.2" y2="26.2" stroke="#f04e4e" stroke-width="0.6"/>
<circle cx="63.10" cy="26.20" r="1.90" fill="#fff" stroke="#f04e4e" stroke-width="0.7"/>
<text x="75.5" y="28.80" font-family='"Liberation Sans", Arial, sans-serif' font-size="7.1" fill="#e33a3a" stroke="#e33a3a" stroke-width="0.18">Exp. Baseline</text>
<line x1="52.3" y1="35.9" x2="73.2" y2="35.9" stroke="#4040f2" stroke-width="0.6"/>
<path d="M63.10 34.01L64.67 37.32L61.53 37.32Z" fill="#fff" stroke="#4040f2" stroke-width="0.7"/>
<text x="75.5" y="38.50" font-family='"Liberation Sans", Arial, sans-serif' font-size="7.1" fill="#2828e8" stroke="#2828e8" stroke-width="0.18">Exp. 0.25<tspan font-style="italic">c</tspan> Stagger</text>
<line x1="52.3" y1="45.7" x2="73.2" y2="45.7" stroke="#3aa43a" stroke-width="0.6"/>
<path d="M63.10 43.95L64.85 45.70L63.10 47.45L61.35 45.70Z" fill="#fff" stroke="#3aa43a" stroke-width="0.7"/>
<text x="75.5" y="48.30" font-family='"Liberation Sans", Arial, sans-serif' font-size="7.1" fill="#2a982a" stroke="#2a982a" stroke-width="0.18">Exp. 0.5<tspan font-style="italic">c</tspan> Stagger</text>
<line x1="52.3" y1="55.8" x2="73.2" y2="55.8" stroke="#606060" stroke-width="0.6"/>
<rect x="61.20" y="53.90" width="3.80" height="3.80" fill="#fff" stroke="#606060" stroke-width="0.7"/>
<text x="75.5" y="58.40" font-family='"Liberation Sans", Arial, sans-serif' font-size="7.1" fill="#222" stroke="#222" stroke-width="0.18">Exp. 0.75<tspan font-style="italic">c</tspan> Stagger</text>
<line x1="52.3" y1="66.0" x2="73.2" y2="66.0" stroke="#ff9a3c" stroke-width="0.7" stroke-dasharray="0.8 1.4" opacity="0.4"/>
<circle cx="63.10" cy="66.00" r="1.71" fill="#fff" stroke="#ffa552" stroke-width="0.7"/>
<text x="75.5" y="68.60" font-family='"Liberation Sans", Arial, sans-serif' font-size="7.1" fill="#ff9636" stroke="#ff9636" stroke-width="0.18">CFD. Baseline</text>
<line x1="52.3" y1="75.7" x2="73.2" y2="75.7" stroke="#ff9a3c" stroke-width="0.7" stroke-dasharray="0.8 1.4" opacity="0.4"/>
<path d="M63.10 73.81L64.67 77.12L61.53 77.12Z" fill="#fff" stroke="#ffa552" stroke-width="0.7"/>
<text x="75.5" y="78.30" font-family='"Liberation Sans", Arial, sans-serif' font-size="7.1" fill="#ff9636" stroke="#ff9636" stroke-width="0.18">CFD. 0.25<tspan font-style="italic">c</tspan> Stagger</text>
<line x1="52.3" y1="85.4" x2="73.2" y2="85.4" stroke="#ff9a3c" stroke-width="0.7" stroke-dasharray="0.8 1.4" opacity="0.4"/>
<path d="M63.10 83.65L64.85 85.40L63.10 87.15L61.35 85.40Z" fill="#fff" stroke="#ffa552" stroke-width="0.7"/>
<text x="75.5" y="88.00" font-family='"Liberation Sans", Arial, sans-serif' font-size="7.1" fill="#ff9636" stroke="#ff9636" stroke-width="0.18">CFD. 0.5<tspan font-style="italic">c</tspan> Stagger</text>
<line x1="52.3" y1="95.2" x2="73.2" y2="95.2" stroke="#ff9a3c" stroke-width="0.7" stroke-dasharray="0.8 1.4" opacity="0.4"/>
<rect x="61.20" y="93.30" width="3.80" height="3.80" fill="#fff" stroke="#ffa552" stroke-width="0.7"/>
<text x="75.5" y="97.80" font-family='"Liberation Sans", Arial, sans-serif' font-size="7.1" fill="#ff9636" stroke="#ff9636" stroke-width="0.18">CFD. 0.75<tspan font-style="italic">c</tspan> Stagger</text>
<text x="33.30" y="235.4" text-anchor="middle" font-family='"Liberation Sans", Arial, sans-serif' font-size="7.4" fill="#222">-30</text>
<text x="68.50" y="235.4" text-anchor="middle" font-family='"Liberation Sans", Arial, sans-serif' font-size="7.4" fill="#222">-20</text>
<text x="103.70" y="235.4" text-anchor="middle" font-family='"Liberation Sans", Arial, sans-serif' font-size="7.4" fill="#222">-10</text>
<text x="138.90" y="235.4" text-anchor="middle" font-family='"Liberation Sans", Arial, sans-serif' font-size="7.4" fill="#222">0</text>
<text x="174.10" y="235.4" text-anchor="middle" font-family='"Liberation Sans", Arial, sans-serif' font-size="7.4" fill="#222">10</text>
<text x="209.30" y="235.4" text-anchor="middle" font-family='"Liberation Sans", Arial, sans-serif' font-size="7.4" fill="#222">20</text>
<text x="244.50" y="235.4" text-anchor="middle" font-family='"Liberation Sans", Arial, sans-serif' font-size="7.4" fill="#222">30</text>
<text x="28.70" y="226.80" text-anchor="end" font-family='"Liberation Sans", Arial, sans-serif' font-size="7.4" fill="#222">0</text>
<text x="28.70" y="191.73" text-anchor="end" font-family='"Liberation Sans", Arial, sans-serif' font-size="7.4" fill="#222">0.3</text>
<text x="28.70" y="156.67" text-anchor="end" font-family='"Liberation Sans", Arial, sans-serif' font-size="7.4" fill="#222">0.6</text>
<text x="28.70" y="121.60" text-anchor="end" font-family='"Liberation Sans", Arial, sans-serif' font-size="7.4" fill="#222">0.9</text>
<text x="28.70" y="86.53" text-anchor="end" font-family='"Liberation Sans", Arial, sans-serif' font-size="7.4" fill="#222">1.2</text>
<text x="28.70" y="51.47" text-anchor="end" font-family='"Liberation Sans", Arial, sans-serif' font-size="7.4" fill="#222">1.5</text>
<text x="28.70" y="16.40" text-anchor="end" font-family='"Liberation Sans", Arial, sans-serif' font-size="7.4" fill="#222">1.8</text>
<text x="138.9" y="249.1" text-anchor="middle" font-family='"Liberation Sans", Arial, sans-serif' font-size="8" font-weight="bold" fill="#1a1a1a">Angle of attack (deg)</text>
<g transform="translate(9.8,143.4) rotate(-90)"><text x="0" y="0" font-family='"Liberation Sans", Arial, sans-serif' font-size="10.4" font-weight="bold" fill="#111">C</text><text x="7.7" y="5.6" font-family='"Liberation Sans", Arial, sans-serif' font-size="6.6" font-weight="bold" font-style="italic" fill="#111">D</text></g>
<text x="119.5" y="277" text-anchor="middle" font-family='"Liberation Serif", serif' font-size="13.5" font-weight="bold" fill="#222">(a)</text></g>
<g><line x1="344.20" y1="8.5" x2="344.20" y2="222.2" stroke="#b4b4b4" stroke-width="0.8" stroke-dasharray="0.9 1.3"/>
<line x1="379.90" y1="8.5" x2="379.90" y2="222.2" stroke="#b4b4b4" stroke-width="0.8" stroke-dasharray="0.9 1.3"/>
<line x1="415.60" y1="8.5" x2="415.60" y2="222.2" stroke="#b4b4b4" stroke-width="0.8" stroke-dasharray="0.9 1.3"/>
<line x1="451.30" y1="8.5" x2="451.30" y2="222.2" stroke="#b4b4b4" stroke-width="0.8" stroke-dasharray="0.9 1.3"/>
<line x1="487.00" y1="8.5" x2="487.00" y2="222.2" stroke="#b4b4b4" stroke-width="0.8" stroke-dasharray="0.9 1.3"/>
<line x1="308.5" y1="179.46" x2="522.7" y2="179.46" stroke="#b4b4b4" stroke-width="0.8" stroke-dasharray="0.9 1.3"/>
<line x1="308.5" y1="136.72" x2="522.7" y2="136.72" stroke="#b4b4b4" stroke-width="0.8" stroke-dasharray="0.9 1.3"/>
<line x1="308.5" y1="93.98" x2="522.7" y2="93.98" stroke="#b4b4b4" stroke-width="0.8" stroke-dasharray="0.9 1.3"/>
<line x1="308.5" y1="51.24" x2="522.7" y2="51.24" stroke="#b4b4b4" stroke-width="0.8" stroke-dasharray="0.9 1.3"/>
<path d="M308.50 222.2v-2.6M308.50 8.5v2.6M315.64 222.2v-1.5M315.64 8.5v1.5M322.78 222.2v-1.5M322.78 8.5v1.5M329.92 222.2v-1.5M329.92 8.5v1.5M337.06 222.2v-1.5M337.06 8.5v1.5M344.20 222.2v-2.6M344.20 8.5v2.6M351.34 222.2v-1.5M351.34 8.5v1.5M358.48 222.2v-1.5M358.48 8.5v1.5M365.62 222.2v-1.5M365.62 8.5v1.5M372.76 222.2v-1.5M372.76 8.5v1.5M379.90 222.2v-2.6M379.90 8.5v2.6M387.04 222.2v-1.5M387.04 8.5v1.5M394.18 222.2v-1.5M394.18 8.5v1.5M401.32 222.2v-1.5M401.32 8.5v1.5M408.46 222.2v-1.5M408.46 8.5v1.5M415.60 222.2v-2.6M415.60 8.5v2.6M422.74 222.2v-1.5M422.74 8.5v1.5M429.88 222.2v-1.5M429.88 8.5v1.5M437.02 222.2v-1.5M437.02 8.5v1.5M444.16 222.2v-1.5M444.16 8.5v1.5M451.30 222.2v-2.6M451.30 8.5v2.6M458.44 222.2v-1.5M458.44 8.5v1.5M465.58 222.2v-1.5M465.58 8.5v1.5M472.72 222.2v-1.5M472.72 8.5v1.5M479.86 222.2v-1.5M479.86 8.5v1.5M487.00 222.2v-2.6M487.00 8.5v2.6M494.14 222.2v-1.5M494.14 8.5v1.5M501.28 222.2v-1.5M501.28 8.5v1.5M508.42 222.2v-1.5M508.42 8.5v1.5M515.56 222.2v-1.5M515.56 8.5v1.5M522.70 222.2v-2.6M522.70 8.5v2.6M308.5 222.20h2.6M522.7 222.20h-2.6M308.5 213.65h1.5M522.7 213.65h-1.5M308.5 205.10h1.5M522.7 205.10h-1.5M308.5 196.56h1.5M522.7 196.56h-1.5M308.5 188.01h1.5M522.7 188.01h-1.5M308.5 179.46h2.6M522.7 179.46h-2.6M308.5 170.91h1.5M522.7 170.91h-1.5M308.5 162.36h1.5M522.7 162.36h-1.5M308.5 153.82h1.5M522.7 153.82h-1.5M308.5 145.27h1.5M522.7 145.27h-1.5M308.5 136.72h2.6M522.7 136.72h-2.6M308.5 128.17h1.5M522.7 128.17h-1.5M308.5 119.62h1.5M522.7 119.62h-1.5M308.5 111.08h1.5M522.7 111.08h-1.5M308.5 102.53h1.5M522.7 102.53h-1.5M308.5 93.98h2.6M522.7 93.98h-2.6M308.5 85.43h1.5M522.7 85.43h-1.5M308.5 76.88h1.5M522.7 76.88h-1.5M308.5 68.34h1.5M522.7 68.34h-1.5M308.5 59.79h1.5M522.7 59.79h-1.5M308.5 51.24h2.6M522.7 51.24h-2.6M308.5 42.69h1.5M522.7 42.69h-1.5M308.5 34.14h1.5M522.7 34.14h-1.5M308.5 25.60h1.5M522.7 25.60h-1.5M308.5 17.05h1.5M522.7 17.05h-1.5M308.5 8.50h2.6M522.7 8.50h-2.6" stroke="#979797" stroke-width="0.8" fill="none"/>
<polyline points="308.50,211.60 315.64,209.29 326.35,204.93 337.06,201.56 344.20,201.56 347.77,201.56 351.34,201.17 354.91,200.19 358.48,198.91 362.05,197.75 365.62,196.98 369.19,196.56 372.76,195.49 376.33,193.14 379.90,188.44 383.47,183.73 387.04,179.03 390.61,174.12 394.18,168.99 397.75,163.65 401.32,158.09 404.89,152.32 408.46,146.55 412.03,140.57 415.60,135.01 419.17,129.03 422.74,123.04 426.31,117.06 429.88,111.08 433.45,105.09 437.02,99.54 440.59,93.98 444.16,88.42 447.73,84.15 451.30,80.73 454.87,78.59 458.44,77.53 462.01,76.88 465.58,76.46 469.15,75.90 472.72,75.17 476.29,74.02 479.86,74.75 483.43,74.53 487.00,75.30 494.14,72.70 504.85,71.16 515.56,68.89 522.70,67.74" fill="none" stroke="#f04e4e" stroke-width="0.7"/>
<circle cx="308.50" cy="211.60" r="1.85" fill="#fff" stroke="#f04e4e" stroke-width="0.7"/>
<circle cx="315.64" cy="209.29" r="1.85" fill="#fff" stroke="#f04e4e" stroke-width="0.7"/>
<circle cx="326.35" cy="204.93" r="1.85" fill="#fff" stroke="#f04e4e" stroke-width="0.7"/>
<circle cx="337.06" cy="201.56" r="1.85" fill="#fff" stroke="#f04e4e" stroke-width="0.7"/>
<circle cx="344.20" cy="201.56" r="1.85" fill="#fff" stroke="#f04e4e" stroke-width="0.7"/>
<circle cx="347.77" cy="201.56" r="1.85" fill="#fff" stroke="#f04e4e" stroke-width="0.7"/>
<circle cx="351.34" cy="201.17" r="1.85" fill="#fff" stroke="#f04e4e" stroke-width="0.7"/>
<circle cx="354.91" cy="200.19" r="1.85" fill="#fff" stroke="#f04e4e" stroke-width="0.7"/>
<circle cx="358.48" cy="198.91" r="1.85" fill="#fff" stroke="#f04e4e" stroke-width="0.7"/>
<circle cx="362.05" cy="197.75" r="1.85" fill="#fff" stroke="#f04e4e" stroke-width="0.7"/>
<circle cx="365.62" cy="196.98" r="1.85" fill="#fff" stroke="#f04e4e" stroke-width="0.7"/>
<circle cx="369.19" cy="196.56" r="1.85" fill="#fff" stroke="#f04e4e" stroke-width="0.7"/>
<circle cx="372.76" cy="195.49" r="1.85" fill="#fff" stroke="#f04e4e" stroke-width="0.7"/>
<circle cx="376.33" cy="193.14" r="1.85" fill="#fff" stroke="#f04e4e" stroke-width="0.7"/>
<circle cx="379.90" cy="188.44" r="1.85" fill="#fff" stroke="#f04e4e" stroke-width="0.7"/>
<circle cx="383.47" cy="183.73" r="1.85" fill="#fff" stroke="#f04e4e" stroke-width="0.7"/>
<circle cx="387.04" cy="179.03" r="1.85" fill="#fff" stroke="#f04e4e" stroke-width="0.7"/>
<circle cx="390.61" cy="174.12" r="1.85" fill="#fff" stroke="#f04e4e" stroke-width="0.7"/>
<circle cx="394.18" cy="168.99" r="1.85" fill="#fff" stroke="#f04e4e" stroke-width="0.7"/>
<circle cx="397.75" cy="163.65" r="1.85" fill="#fff" stroke="#f04e4e" stroke-width="0.7"/>
<circle cx="401.32" cy="158.09" r="1.85" fill="#fff" stroke="#f04e4e" stroke-width="0.7"/>
<circle cx="404.89" cy="152.32" r="1.85" fill="#fff" stroke="#f04e4e" stroke-width="0.7"/>
<circle cx="408.46" cy="146.55" r="1.85" fill="#fff" stroke="#f04e4e" stroke-width="0.7"/>
<circle cx="412.03" cy="140.57" r="1.85" fill="#fff" stroke="#f04e4e" stroke-width="0.7"/>
<circle cx="415.60" cy="135.01" r="1.85" fill="#fff" stroke="#f04e4e" stroke-width="0.7"/>
<circle cx="419.17" cy="129.03" r="1.85" fill="#fff" stroke="#f04e4e" stroke-width="0.7"/>
<circle cx="422.74" cy="123.04" r="1.85" fill="#fff" stroke="#f04e4e" stroke-width="0.7"/>
<circle cx="426.31" cy="117.06" r="1.85" fill="#fff" stroke="#f04e4e" stroke-width="0.7"/>
<circle cx="429.88" cy="111.08" r="1.85" fill="#fff" stroke="#f04e4e" stroke-width="0.7"/>
<circle cx="433.45" cy="105.09" r="1.85" fill="#fff" stroke="#f04e4e" stroke-width="0.7"/>
<circle cx="437.02" cy="99.54" r="1.85" fill="#fff" stroke="#f04e4e" stroke-width="0.7"/>
<circle cx="440.59" cy="93.98" r="1.85" fill="#fff" stroke="#f04e4e" stroke-width="0.7"/>
<circle cx="444.16" cy="88.42" r="1.85" fill="#fff" stroke="#f04e4e" stroke-width="0.7"/>
<circle cx="447.73" cy="84.15" r="1.85" fill="#fff" stroke="#f04e4e" stroke-width="0.7"/>
<circle cx="451.30" cy="80.73" r="1.85" fill="#fff" stroke="#f04e4e" stroke-width="0.7"/>
<circle cx="454.87" cy="78.59" r="1.85" fill="#fff" stroke="#f04e4e" stroke-width="0.7"/>
<circle cx="458.44" cy="77.53" r="1.85" fill="#fff" stroke="#f04e4e" stroke-width="0.7"/>
<circle cx="462.01" cy="76.88" r="1.85" fill="#fff" stroke="#f04e4e" stroke-width="0.7"/>
<circle cx="465.58" cy="76.46" r="1.85" fill="#fff" stroke="#f04e4e" stroke-width="0.7"/>
<circle cx="469.15" cy="75.90" r="1.85" fill="#fff" stroke="#f04e4e" stroke-width="0.7"/>
<circle cx="472.72" cy="75.17" r="1.85" fill="#fff" stroke="#f04e4e" stroke-width="0.7"/>
<circle cx="476.29" cy="74.02" r="1.85" fill="#fff" stroke="#f04e4e" stroke-width="0.7"/>
<circle cx="479.86" cy="74.75" r="1.85" fill="#fff" stroke="#f04e4e" stroke-width="0.7"/>
<circle cx="483.43" cy="74.53" r="1.85" fill="#fff" stroke="#f04e4e" stroke-width="0.7"/>
<circle cx="487.00" cy="75.30" r="1.85" fill="#fff" stroke="#f04e4e" stroke-width="0.7"/>
<circle cx="494.14" cy="72.70" r="1.85" fill="#fff" stroke="#f04e4e" stroke-width="0.7"/>
<circle cx="504.85" cy="71.16" r="1.85" fill="#fff" stroke="#f04e4e" stroke-width="0.7"/>
<circle cx="515.56" cy="68.89" r="1.85" fill="#fff" stroke="#f04e4e" stroke-width="0.7"/>
<circle cx="522.70" cy="67.74" r="1.85" fill="#fff" stroke="#f04e4e" stroke-width="0.7"/>
<polyline points="308.50,196.81 315.64,195.10 326.35,196.98 337.06,197.75 344.20,196.04 347.77,195.10 351.34,194.85 354.91,195.49 358.48,196.56 362.05,196.13 365.62,195.49 369.19,196.13 372.76,195.70 376.33,193.56 379.90,188.86 383.47,184.16 387.04,179.46 390.61,174.33 394.18,169.20 397.75,163.65 401.32,157.66 404.89,151.68 408.46,145.70 412.03,139.28 415.60,133.73 419.17,127.32 422.74,120.91 426.31,114.50 429.88,108.08 433.45,101.67 437.02,95.69 440.59,89.71 444.16,84.58 447.73,80.94 451.30,77.31 454.87,75.60 458.44,73.68 462.01,71.76 465.58,70.90 469.15,70.22 472.72,70.22 476.29,70.22 479.86,70.22 483.43,69.23 487.00,67.74 494.14,65.09 504.85,62.05 515.56,57.91 522.70,59.23" fill="none" stroke="#4040f2" stroke-width="0.7"/>
<path d="M308.50 195.21L309.83 198.01L307.17 198.01Z" fill="#fff" stroke="#4040f2" stroke-width="0.7"/>
<path d="M315.64 193.50L316.97 196.30L314.31 196.30Z" fill="#fff" stroke="#4040f2" stroke-width="0.7"/>
<path d="M326.35 195.38L327.68 198.18L325.02 198.18Z" fill="#fff" stroke="#4040f2" stroke-width="0.7"/>
<path d="M337.06 196.15L338.39 198.95L335.73 198.95Z" fill="#fff" stroke="#4040f2" stroke-width="0.7"/>
<path d="M344.20 194.44L345.53 197.24L342.87 197.24Z" fill="#fff" stroke="#4040f2" stroke-width="0.7"/>
<path d="M347.77 193.50L349.10 196.30L346.44 196.30Z" fill="#fff" stroke="#4040f2" stroke-width="0.7"/>
<path d="M351.34 193.25L352.67 196.05L350.01 196.05Z" fill="#fff" stroke="#4040f2" stroke-width="0.7"/>
<path d="M354.91 193.89L356.24 196.69L353.58 196.69Z" fill="#fff" stroke="#4040f2" stroke-width="0.7"/>
<path d="M358.48 194.96L359.81 197.75L357.15 197.75Z" fill="#fff" stroke="#4040f2" stroke-width="0.7"/>
<path d="M362.05 194.53L363.38 197.33L360.72 197.33Z" fill="#fff" stroke="#4040f2" stroke-width="0.7"/>
<path d="M365.62 193.89L366.95 196.69L364.29 196.69Z" fill="#fff" stroke="#4040f2" stroke-width="0.7"/>
<path d="M369.19 194.53L370.52 197.33L367.86 197.33Z" fill="#fff" stroke="#4040f2" stroke-width="0.7"/>
<path d="M372.76 194.10L374.09 196.90L371.43 196.90Z" fill="#fff" stroke="#4040f2" stroke-width="0.7"/>
<path d="M376.33 191.97L377.66 194.76L375.00 194.76Z" fill="#fff" stroke="#4040f2" stroke-width="0.7"/>
<path d="M379.90 187.26L381.23 190.06L378.57 190.06Z" fill="#fff" stroke="#4040f2" stroke-width="0.7"/>
<path d="M383.47 182.56L384.80 185.36L382.14 185.36Z" fill="#fff" stroke="#4040f2" stroke-width="0.7"/>
<path d="M387.04 177.86L388.37 180.66L385.71 180.66Z" fill="#fff" stroke="#4040f2" stroke-width="0.7"/>
<path d="M390.61 172.73L391.94 175.53L389.28 175.53Z" fill="#fff" stroke="#4040f2" stroke-width="0.7"/>
<path d="M394.18 167.60L395.51 170.40L392.85 170.40Z" fill="#fff" stroke="#4040f2" stroke-width="0.7"/>
<path d="M397.75 162.05L399.08 164.84L396.42 164.84Z" fill="#fff" stroke="#4040f2" stroke-width="0.7"/>
<path d="M401.32 156.06L402.65 158.86L399.99 158.86Z" fill="#fff" stroke="#4040f2" stroke-width="0.7"/>
<path d="M404.89 150.08L406.22 152.88L403.56 152.88Z" fill="#fff" stroke="#4040f2" stroke-width="0.7"/>
<path d="M408.46 144.10L409.79 146.89L407.13 146.89Z" fill="#fff" stroke="#4040f2" stroke-width="0.7"/>
<path d="M412.03 137.69L413.36 140.48L410.70 140.48Z" fill="#fff" stroke="#4040f2" stroke-width="0.7"/>
<path d="M415.60 132.13L416.93 134.93L414.27 134.93Z" fill="#fff" stroke="#4040f2" stroke-width="0.7"/>
<path d="M419.17 125.72L420.50 128.52L417.84 128.52Z" fill="#fff" stroke="#4040f2" stroke-width="0.7"/>
<path d="M422.74 119.31L424.07 122.10L421.41 122.10Z" fill="#fff" stroke="#4040f2" stroke-width="0.7"/>
<path d="M426.31 112.90L427.64 115.69L424.98 115.69Z" fill="#fff" stroke="#4040f2" stroke-width="0.7"/>
<path d="M429.88 106.49L431.21 109.28L428.55 109.28Z" fill="#fff" stroke="#4040f2" stroke-width="0.7"/>
<path d="M433.45 100.07L434.78 102.87L432.12 102.87Z" fill="#fff" stroke="#4040f2" stroke-width="0.7"/>
<path d="M437.02 94.09L438.35 96.89L435.69 96.89Z" fill="#fff" stroke="#4040f2" stroke-width="0.7"/>
<path d="M440.59 88.11L441.92 90.90L439.26 90.90Z" fill="#fff" stroke="#4040f2" stroke-width="0.7"/>
<path d="M444.16 82.98L445.49 85.78L442.83 85.78Z" fill="#fff" stroke="#4040f2" stroke-width="0.7"/>
<path d="M447.73 79.35L449.06 82.14L446.40 82.14Z" fill="#fff" stroke="#4040f2" stroke-width="0.7"/>
<path d="M451.30 75.71L452.63 78.51L449.97 78.51Z" fill="#fff" stroke="#4040f2" stroke-width="0.7"/>
<path d="M454.87 74.00L456.20 76.80L453.54 76.80Z" fill="#fff" stroke="#4040f2" stroke-width="0.7"/>
<path d="M458.44 72.08L459.77 74.88L457.11 74.88Z" fill="#fff" stroke="#4040f2" stroke-width="0.7"/>
<path d="M462.01 70.16L463.34 72.95L460.68 72.95Z" fill="#fff" stroke="#4040f2" stroke-width="0.7"/>
<path d="M465.58 69.30L466.91 72.10L464.25 72.10Z" fill="#fff" stroke="#4040f2" stroke-width="0.7"/>
<path d="M469.15 68.62L470.48 71.42L467.82 71.42Z" fill="#fff" stroke="#4040f2" stroke-width="0.7"/>
<path d="M472.72 68.62L474.05 71.42L471.39 71.42Z" fill="#fff" stroke="#4040f2" stroke-width="0.7"/>
<path d="M476.29 68.62L477.62 71.42L474.96 71.42Z" fill="#fff" stroke="#4040f2" stroke-width="0.7"/>
<path d="M479.86 68.62L481.19 71.42L478.53 71.42Z" fill="#fff" stroke="#4040f2" stroke-width="0.7"/>
<path d="M483.43 67.64L484.76 70.43L482.10 70.43Z" fill="#fff" stroke="#4040f2" stroke-width="0.7"/>
<path d="M487.00 66.14L488.33 68.94L485.67 68.94Z" fill="#fff" stroke="#4040f2" stroke-width="0.7"/>
<path d="M494.14 63.49L495.47 66.29L492.81 66.29Z" fill="#fff" stroke="#4040f2" stroke-width="0.7"/>
<path d="M504.85 60.45L506.18 63.25L503.52 63.25Z" fill="#fff" stroke="#4040f2" stroke-width="0.7"/>
<path d="M515.56 56.31L516.89 59.11L514.23 59.11Z" fill="#fff" stroke="#4040f2" stroke-width="0.7"/>
<path d="M522.70 57.63L524.03 60.43L521.37 60.43Z" fill="#fff" stroke="#4040f2" stroke-width="0.7"/>
<polyline points="308.50,183.18 315.64,184.12 326.35,186.94 337.06,189.80 344.20,191.68 347.77,190.36 351.34,191.30 354.91,193.18 358.48,196.04 362.05,196.81 365.62,196.81 369.19,196.81 372.76,196.13 376.33,193.82 379.90,189.72 383.47,185.02 387.04,180.31 390.61,175.19 394.18,169.84 397.75,164.07 401.32,158.09 404.89,151.89 408.46,145.70 412.03,139.28 415.60,133.30 419.17,126.68 422.74,120.05 426.31,113.43 429.88,106.80 433.45,100.18 437.02,93.55 440.59,86.71 444.16,80.00 447.73,74.53 451.30,70.05 454.87,68.34 458.44,66.75 462.01,65.47 465.58,64.49 469.15,63.59 472.72,63.21 476.29,62.65 479.86,61.71 483.43,60.86 487.00,60.22 494.14,57.91 504.85,53.16 515.56,49.36 522.70,47.48" fill="none" stroke="#3aa43a" stroke-width="0.7"/>
<path d="M308.50 181.70L309.98 183.18L308.50 184.66L307.02 183.18Z" fill="#fff" stroke="#3aa43a" stroke-width="0.7"/>
<path d="M315.64 182.64L317.12 184.12L315.64 185.60L314.16 184.12Z" fill="#fff" stroke="#3aa43a" stroke-width="0.7"/>
<path d="M326.35 185.46L327.83 186.94L326.35 188.42L324.87 186.94Z" fill="#fff" stroke="#3aa43a" stroke-width="0.7"/>
<path d="M337.06 188.32L338.54 189.80L337.06 191.28L335.58 189.80Z" fill="#fff" stroke="#3aa43a" stroke-width="0.7"/>
<path d="M344.20 190.20L345.68 191.68L344.20 193.16L342.72 191.68Z" fill="#fff" stroke="#3aa43a" stroke-width="0.7"/>
<path d="M347.77 188.88L349.25 190.36L347.77 191.84L346.29 190.36Z" fill="#fff" stroke="#3aa43a" stroke-width="0.7"/>
<path d="M351.34 189.82L352.82 191.30L351.34 192.78L349.86 191.30Z" fill="#fff" stroke="#3aa43a" stroke-width="0.7"/>
<path d="M354.91 191.70L356.39 193.18L354.91 194.66L353.43 193.18Z" fill="#fff" stroke="#3aa43a" stroke-width="0.7"/>
<path d="M358.48 194.56L359.96 196.04L358.48 197.52L357.00 196.04Z" fill="#fff" stroke="#3aa43a" stroke-width="0.7"/>
<path d="M362.05 195.33L363.53 196.81L362.05 198.29L360.57 196.81Z" fill="#fff" stroke="#3aa43a" stroke-width="0.7"/>
<path d="M365.62 195.33L367.10 196.81L365.62 198.29L364.14 196.81Z" fill="#fff" stroke="#3aa43a" stroke-width="0.7"/>
<path d="M369.19 195.33L370.67 196.81L369.19 198.29L367.71 196.81Z" fill="#fff" stroke="#3aa43a" stroke-width="0.7"/>
<path d="M372.76 194.65L374.24 196.13L372.76 197.61L371.28 196.13Z" fill="#fff" stroke="#3aa43a" stroke-width="0.7"/>
<path d="M376.33 192.34L377.81 193.82L376.33 195.30L374.85 193.82Z" fill="#fff" stroke="#3aa43a" stroke-width="0.7"/>
<path d="M379.90 188.24L381.38 189.72L379.90 191.20L378.42 189.72Z" fill="#fff" stroke="#3aa43a" stroke-width="0.7"/>
<path d="M383.47 183.54L384.95 185.02L383.47 186.50L381.99 185.02Z" fill="#fff" stroke="#3aa43a" stroke-width="0.7"/>
<path d="M387.04 178.83L388.52 180.31L387.04 181.79L385.56 180.31Z" fill="#fff" stroke="#3aa43a" stroke-width="0.7"/>
<path d="M390.61 173.71L392.09 175.19L390.61 176.67L389.13 175.19Z" fill="#fff" stroke="#3aa43a" stroke-width="0.7"/>
<path d="M394.18 168.36L395.66 169.84L394.18 171.32L392.70 169.84Z" fill="#fff" stroke="#3aa43a" stroke-width="0.7"/>
<path d="M397.75 162.59L399.23 164.07L397.75 165.55L396.27 164.07Z" fill="#fff" stroke="#3aa43a" stroke-width="0.7"/>
<path d="M401.32 156.61L402.80 158.09L401.32 159.57L399.84 158.09Z" fill="#fff" stroke="#3aa43a" stroke-width="0.7"/>
<path d="M404.89 150.41L406.37 151.89L404.89 153.37L403.41 151.89Z" fill="#fff" stroke="#3aa43a" stroke-width="0.7"/>
<path d="M408.46 144.22L409.94 145.70L408.46 147.18L406.98 145.70Z" fill="#fff" stroke="#3aa43a" stroke-width="0.7"/>
<path d="M412.03 137.80L413.51 139.28L412.03 140.76L410.55 139.28Z" fill="#fff" stroke="#3aa43a" stroke-width="0.7"/>
<path d="M415.60 131.82L417.08 133.30L415.60 134.78L414.12 133.30Z" fill="#fff" stroke="#3aa43a" stroke-width="0.7"/>
<path d="M419.17 125.20L420.65 126.68L419.17 128.16L417.69 126.68Z" fill="#fff" stroke="#3aa43a" stroke-width="0.7"/>
<path d="M422.74 118.57L424.22 120.05L422.74 121.53L421.26 120.05Z" fill="#fff" stroke="#3aa43a" stroke-width="0.7"/>
<path d="M426.31 111.95L427.79 113.43L426.31 114.91L424.83 113.43Z" fill="#fff" stroke="#3aa43a" stroke-width="0.7"/>
<path d="M429.88 105.32L431.36 106.80L429.88 108.28L428.40 106.80Z" fill="#fff" stroke="#3aa43a" stroke-width="0.7"/>
<path d="M433.45 98.70L434.93 100.18L433.45 101.66L431.97 100.18Z" fill="#fff" stroke="#3aa43a" stroke-width="0.7"/>
<path d="M437.02 92.07L438.50 93.55L437.02 95.03L435.54 93.55Z" fill="#fff" stroke="#3aa43a" stroke-width="0.7"/>
<path d="M440.59 85.23L442.07 86.71L440.59 88.19L439.11 86.71Z" fill="#fff" stroke="#3aa43a" stroke-width="0.7"/>
<path d="M444.16 78.52L445.64 80.00L444.16 81.48L442.68 80.00Z" fill="#fff" stroke="#3aa43a" stroke-width="0.7"/>
<path d="M447.73 73.05L449.21 74.53L447.73 76.01L446.25 74.53Z" fill="#fff" stroke="#3aa43a" stroke-width="0.7"/>
<path d="M451.30 68.57L452.78 70.05L451.30 71.53L449.82 70.05Z" fill="#fff" stroke="#3aa43a" stroke-width="0.7"/>
<path d="M454.87 66.86L456.35 68.34L454.87 69.82L453.39 68.34Z" fill="#fff" stroke="#3aa43a" stroke-width="0.7"/>
<path d="M458.44 65.27L459.92 66.75L458.44 68.23L456.96 66.75Z" fill="#fff" stroke="#3aa43a" stroke-width="0.7"/>
<path d="M462.01 63.99L463.49 65.47L462.01 66.95L460.53 65.47Z" fill="#fff" stroke="#3aa43a" stroke-width="0.7"/>
<path d="M465.58 63.01L467.06 64.49L465.58 65.97L464.10 64.49Z" fill="#fff" stroke="#3aa43a" stroke-width="0.7"/>
<path d="M469.15 62.11L470.63 63.59L469.15 65.07L467.67 63.59Z" fill="#fff" stroke="#3aa43a" stroke-width="0.7"/>
<path d="M472.72 61.73L474.20 63.21L472.72 64.69L471.24 63.21Z" fill="#fff" stroke="#3aa43a" stroke-width="0.7"/>
<path d="M476.29 61.17L477.77 62.65L476.29 64.13L474.81 62.65Z" fill="#fff" stroke="#3aa43a" stroke-width="0.7"/>
<path d="M479.86 60.23L481.34 61.71L479.86 63.19L478.38 61.71Z" fill="#fff" stroke="#3aa43a" stroke-width="0.7"/>
<path d="M483.43 59.38L484.91 60.86L483.43 62.34L481.95 60.86Z" fill="#fff" stroke="#3aa43a" stroke-width="0.7"/>
<path d="M487.00 58.74L488.48 60.22L487.00 61.70L485.52 60.22Z" fill="#fff" stroke="#3aa43a" stroke-width="0.7"/>
<path d="M494.14 56.43L495.62 57.91L494.14 59.39L492.66 57.91Z" fill="#fff" stroke="#3aa43a" stroke-width="0.7"/>
<path d="M504.85 51.68L506.33 53.16L504.85 54.64L503.37 53.16Z" fill="#fff" stroke="#3aa43a" stroke-width="0.7"/>
<path d="M515.56 47.88L517.04 49.36L515.56 50.84L514.08 49.36Z" fill="#fff" stroke="#3aa43a" stroke-width="0.7"/>
<path d="M522.70 46.00L524.18 47.48L522.70 48.96L521.22 47.48Z" fill="#fff" stroke="#3aa43a" stroke-width="0.7"/>
<polyline points="308.50,170.48 315.64,171.21 326.35,174.25 337.06,175.61 344.20,179.76 347.77,177.88 351.34,181.60 354.91,183.73 358.48,185.44 362.05,187.32 365.62,189.42 369.19,191.30 372.76,192.07 376.33,190.36 379.90,186.94 383.47,183.18 387.04,179.46 390.61,174.63 394.18,169.42 397.75,163.65 401.32,157.66 404.89,151.47 408.46,145.27 412.03,138.86 415.60,132.45 419.17,125.61 422.74,118.77 426.31,111.93 429.88,105.09 433.45,98.25 437.02,90.99 440.59,83.72 444.16,75.60 447.73,69.62 451.30,66.20 454.87,63.59 458.44,61.33 462.01,58.85 465.58,57.31 469.15,55.60 472.72,54.49 476.29,53.16 479.86,51.24 483.43,49.53 487.00,46.97 494.14,43.12 504.85,38.93 515.56,32.86 522.70,29.87" fill="none" stroke="#606060" stroke-width="0.7"/>
<rect x="306.74" y="168.73" width="3.52" height="3.52" fill="#fff" stroke="#606060" stroke-width="0.7"/>
<rect x="313.88" y="169.45" width="3.52" height="3.52" fill="#fff" stroke="#606060" stroke-width="0.7"/>
<rect x="324.59" y="172.49" width="3.52" height="3.52" fill="#fff" stroke="#606060" stroke-width="0.7"/>
<rect x="335.30" y="173.86" width="3.52" height="3.52" fill="#fff" stroke="#606060" stroke-width="0.7"/>
<rect x="342.44" y="178.00" width="3.52" height="3.52" fill="#fff" stroke="#606060" stroke-width="0.7"/>
<rect x="346.01" y="176.12" width="3.52" height="3.52" fill="#fff" stroke="#606060" stroke-width="0.7"/>
<rect x="349.58" y="179.84" width="3.52" height="3.52" fill="#fff" stroke="#606060" stroke-width="0.7"/>
<rect x="353.15" y="181.98" width="3.52" height="3.52" fill="#fff" stroke="#606060" stroke-width="0.7"/>
<rect x="356.72" y="183.69" width="3.52" height="3.52" fill="#fff" stroke="#606060" stroke-width="0.7"/>
<rect x="360.29" y="185.57" width="3.52" height="3.52" fill="#fff" stroke="#606060" stroke-width="0.7"/>
<rect x="363.86" y="187.66" width="3.52" height="3.52" fill="#fff" stroke="#606060" stroke-width="0.7"/>
<rect x="367.43" y="189.54" width="3.52" height="3.52" fill="#fff" stroke="#606060" stroke-width="0.7"/>
<rect x="371.00" y="190.31" width="3.52" height="3.52" fill="#fff" stroke="#606060" stroke-width="0.7"/>
<rect x="374.57" y="188.60" width="3.52" height="3.52" fill="#fff" stroke="#606060" stroke-width="0.7"/>
<rect x="378.14" y="185.18" width="3.52" height="3.52" fill="#fff" stroke="#606060" stroke-width="0.7"/>
<rect x="381.71" y="181.42" width="3.52" height="3.52" fill="#fff" stroke="#606060" stroke-width="0.7"/>
<rect x="385.28" y="177.70" width="3.52" height="3.52" fill="#fff" stroke="#606060" stroke-width="0.7"/>
<rect x="388.85" y="172.87" width="3.52" height="3.52" fill="#fff" stroke="#606060" stroke-width="0.7"/>
<rect x="392.42" y="167.66" width="3.52" height="3.52" fill="#fff" stroke="#606060" stroke-width="0.7"/>
<rect x="395.99" y="161.89" width="3.52" height="3.52" fill="#fff" stroke="#606060" stroke-width="0.7"/>
<rect x="399.56" y="155.91" width="3.52" height="3.52" fill="#fff" stroke="#606060" stroke-width="0.7"/>
<rect x="403.13" y="149.71" width="3.52" height="3.52" fill="#fff" stroke="#606060" stroke-width="0.7"/>
<rect x="406.70" y="143.51" width="3.52" height="3.52" fill="#fff" stroke="#606060" stroke-width="0.7"/>
<rect x="410.27" y="137.10" width="3.52" height="3.52" fill="#fff" stroke="#606060" stroke-width="0.7"/>
<rect x="413.84" y="130.69" width="3.52" height="3.52" fill="#fff" stroke="#606060" stroke-width="0.7"/>
<rect x="417.41" y="123.85" width="3.52" height="3.52" fill="#fff" stroke="#606060" stroke-width="0.7"/>
<rect x="420.98" y="117.01" width="3.52" height="3.52" fill="#fff" stroke="#606060" stroke-width="0.7"/>
<rect x="424.55" y="110.17" width="3.52" height="3.52" fill="#fff" stroke="#606060" stroke-width="0.7"/>
<rect x="428.12" y="103.33" width="3.52" height="3.52" fill="#fff" stroke="#606060" stroke-width="0.7"/>
<rect x="431.69" y="96.50" width="3.52" height="3.52" fill="#fff" stroke="#606060" stroke-width="0.7"/>
<rect x="435.26" y="89.23" width="3.52" height="3.52" fill="#fff" stroke="#606060" stroke-width="0.7"/>
<rect x="438.83" y="81.96" width="3.52" height="3.52" fill="#fff" stroke="#606060" stroke-width="0.7"/>
<rect x="442.40" y="73.84" width="3.52" height="3.52" fill="#fff" stroke="#606060" stroke-width="0.7"/>
<rect x="445.97" y="67.86" width="3.52" height="3.52" fill="#fff" stroke="#606060" stroke-width="0.7"/>
<rect x="449.54" y="64.44" width="3.52" height="3.52" fill="#fff" stroke="#606060" stroke-width="0.7"/>
<rect x="453.11" y="61.83" width="3.52" height="3.52" fill="#fff" stroke="#606060" stroke-width="0.7"/>
<rect x="456.68" y="59.57" width="3.52" height="3.52" fill="#fff" stroke="#606060" stroke-width="0.7"/>
<rect x="460.25" y="57.09" width="3.52" height="3.52" fill="#fff" stroke="#606060" stroke-width="0.7"/>
<rect x="463.82" y="55.55" width="3.52" height="3.52" fill="#fff" stroke="#606060" stroke-width="0.7"/>
<rect x="467.39" y="53.84" width="3.52" height="3.52" fill="#fff" stroke="#606060" stroke-width="0.7"/>
<rect x="470.96" y="52.73" width="3.52" height="3.52" fill="#fff" stroke="#606060" stroke-width="0.7"/>
<rect x="474.53" y="51.41" width="3.52" height="3.52" fill="#fff" stroke="#606060" stroke-width="0.7"/>
<rect x="478.10" y="49.48" width="3.52" height="3.52" fill="#fff" stroke="#606060" stroke-width="0.7"/>
<rect x="481.67" y="47.77" width="3.52" height="3.52" fill="#fff" stroke="#606060" stroke-width="0.7"/>
<rect x="485.24" y="45.21" width="3.52" height="3.52" fill="#fff" stroke="#606060" stroke-width="0.7"/>
<rect x="492.38" y="41.36" width="3.52" height="3.52" fill="#fff" stroke="#606060" stroke-width="0.7"/>
<rect x="503.09" y="37.17" width="3.52" height="3.52" fill="#fff" stroke="#606060" stroke-width="0.7"/>
<rect x="513.80" y="31.10" width="3.52" height="3.52" fill="#fff" stroke="#606060" stroke-width="0.7"/>
<rect x="520.94" y="28.11" width="3.52" height="3.52" fill="#fff" stroke="#606060" stroke-width="0.7"/>
<polyline points="415.60,136.29 433.45,102.53 451.30,80.65 469.15,78.72 487.00,75.30 504.85,75.90 522.70,76.46" fill="none" stroke="#ff9a3c" stroke-width="0.7" stroke-dasharray="0.8 1.4" opacity="0.75"/>
<circle cx="415.60" cy="136.29" r="2.00" fill="#fff" stroke="#ffa552" stroke-width="0.7"/>
<circle cx="433.45" cy="102.53" r="2.00" fill="#fff" stroke="#ffa552" stroke-width="0.7"/>
<circle cx="451.30" cy="80.65" r="2.00" fill="#fff" stroke="#ffa552" stroke-width="0.7"/>
<circle cx="469.15" cy="78.72" r="2.00" fill="#fff" stroke="#ffa552" stroke-width="0.7"/>
<circle cx="487.00" cy="75.30" r="2.00" fill="#fff" stroke="#ffa552" stroke-width="0.7"/>
<circle cx="504.85" cy="75.90" r="2.00" fill="#fff" stroke="#ffa552" stroke-width="0.7"/>
<circle cx="522.70" cy="76.46" r="2.00" fill="#fff" stroke="#ffa552" stroke-width="0.7"/>
<polyline points="415.60,134.16 433.45,98.25 451.30,75.17 469.15,73.04 487.00,68.89 504.85,65.47 522.70,65.47" fill="none" stroke="#ff9a3c" stroke-width="0.7" stroke-dasharray="0.8 1.4" opacity="0.75"/>
<path d="M415.60 132.43L417.04 135.45L414.16 135.45Z" fill="#fff" stroke="#ffa552" stroke-width="0.7"/>
<path d="M433.45 96.53L434.89 99.55L432.01 99.55Z" fill="#fff" stroke="#ffa552" stroke-width="0.7"/>
<path d="M451.30 73.45L452.74 76.47L449.86 76.47Z" fill="#fff" stroke="#ffa552" stroke-width="0.7"/>
<path d="M469.15 71.31L470.59 74.33L467.71 74.33Z" fill="#fff" stroke="#ffa552" stroke-width="0.7"/>
<path d="M487.00 67.16L488.44 70.19L485.56 70.19Z" fill="#fff" stroke="#ffa552" stroke-width="0.7"/>
<path d="M504.85 63.74L506.29 66.77L503.41 66.77Z" fill="#fff" stroke="#ffa552" stroke-width="0.7"/>
<path d="M522.70 63.74L524.14 66.77L521.26 66.77Z" fill="#fff" stroke="#ffa552" stroke-width="0.7"/>
<polyline points="415.60,132.45 433.45,93.98 451.30,71.16 469.15,62.65 487.00,56.03 504.85,53.16 522.70,51.24" fill="none" stroke="#ff9a3c" stroke-width="0.7" stroke-dasharray="0.8 1.4" opacity="0.75"/>
<path d="M415.60 130.85L417.20 132.45L415.60 134.05L414.00 132.45Z" fill="#fff" stroke="#ffa552" stroke-width="0.7"/>
<path d="M433.45 92.38L435.05 93.98L433.45 95.58L431.85 93.98Z" fill="#fff" stroke="#ffa552" stroke-width="0.7"/>
<path d="M451.30 69.56L452.90 71.16L451.30 72.76L449.70 71.16Z" fill="#fff" stroke="#ffa552" stroke-width="0.7"/>
<path d="M469.15 61.05L470.75 62.65L469.15 64.25L467.55 62.65Z" fill="#fff" stroke="#ffa552" stroke-width="0.7"/>
<path d="M487.00 54.43L488.60 56.03L487.00 57.63L485.40 56.03Z" fill="#fff" stroke="#ffa552" stroke-width="0.7"/>
<path d="M504.85 51.56L506.45 53.16L504.85 54.76L503.25 53.16Z" fill="#fff" stroke="#ffa552" stroke-width="0.7"/>
<path d="M522.70 49.64L524.30 51.24L522.70 52.84L521.10 51.24Z" fill="#fff" stroke="#ffa552" stroke-width="0.7"/>
<polyline points="415.60,129.88 433.45,85.43 451.30,64.06 469.15,54.49 487.00,45.04 504.85,38.93 522.70,36.71" fill="none" stroke="#ff9a3c" stroke-width="0.7" stroke-dasharray="0.8 1.4" opacity="0.75"/>
<rect x="413.60" y="127.88" width="4.00" height="4.00" fill="#fff" stroke="#ffa552" stroke-width="0.7"/>
<rect x="431.45" y="83.43" width="4.00" height="4.00" fill="#fff" stroke="#ffa552" stroke-width="0.7"/>
<rect x="449.30" y="62.06" width="4.00" height="4.00" fill="#fff" stroke="#ffa552" stroke-width="0.7"/>
<rect x="467.15" y="52.49" width="4.00" height="4.00" fill="#fff" stroke="#ffa552" stroke-width="0.7"/>
<rect x="485.00" y="43.04" width="4.00" height="4.00" fill="#fff" stroke="#ffa552" stroke-width="0.7"/>
<rect x="502.85" y="36.93" width="4.00" height="4.00" fill="#fff" stroke="#ffa552" stroke-width="0.7"/>
<rect x="520.70" y="34.71" width="4.00" height="4.00" fill="#fff" stroke="#ffa552" stroke-width="0.7"/>
<rect x="426" y="150" width="83" height="62" fill="#fff"/>
<path d="M430 158L488.8 158L459.3 161.4Z" fill="#fff" stroke="#111" stroke-width="1.0" stroke-linejoin="round"/>
<line x1="430" y1="158" x2="488.8" y2="158" stroke="#111" stroke-width="1.3"/>
<path d="M445 185.2L503.8 185.2L474.5 181.7Z" fill="#fff" stroke="#111" stroke-width="1.0" stroke-linejoin="round"/>
<line x1="445" y1="185.2" x2="503.8" y2="185.2" stroke="#111" stroke-width="1.3"/>
<text x="426.1" y="204.6" font-family='"Liberation Serif", serif' font-size="11.6" fill="#1c1c1c" stroke="#1c1c1c" stroke-width="0.22" textLength="82.4" lengthAdjust="spacingAndGlyphs">Staggered models</text>
<rect x="308.5" y="8.5" width="214.20" height="213.70" fill="none" stroke="#979797" stroke-width="1"/>
<rect x="313.5" y="12.1" width="94.00" height="88.40" fill="#fff" stroke="#2a2a2a" stroke-width="1.1"/>
<line x1="318" y1="19.1" x2="337" y2="19.1" stroke="#f04e4e" stroke-width="0.6"/>
<circle cx="328.20" cy="19.10" r="1.90" fill="#fff" stroke="#f04e4e" stroke-width="0.7"/>
<text x="340.9" y="21.70" font-family='"Liberation Sans", Arial, sans-serif' font-size="7.15" fill="#e33a3a" stroke="#e33a3a" stroke-width="0.18">Exp. Baseline</text>
<line x1="318" y1="29.8" x2="337" y2="29.8" stroke="#4040f2" stroke-width="0.6"/>
<path d="M328.20 27.91L329.77 31.22L326.63 31.22Z" fill="#fff" stroke="#4040f2" stroke-width="0.7"/>
<text x="340.9" y="32.40" font-family='"Liberation Sans", Arial, sans-serif' font-size="7.15" fill="#2828e8" stroke="#2828e8" stroke-width="0.18">Exp. 0.25<tspan font-style="italic">c</tspan> Stagger</text>
<line x1="318" y1="40.3" x2="337" y2="40.3" stroke="#3aa43a" stroke-width="0.6"/>
<path d="M328.20 38.55L329.95 40.30L328.20 42.05L326.45 40.30Z" fill="#fff" stroke="#3aa43a" stroke-width="0.7"/>
<text x="340.9" y="42.90" font-family='"Liberation Sans", Arial, sans-serif' font-size="7.15" fill="#2a982a" stroke="#2a982a" stroke-width="0.18">Exp. 0.5<tspan font-style="italic">c</tspan> Stagger</text>
<line x1="318" y1="51.1" x2="337" y2="51.1" stroke="#606060" stroke-width="0.6"/>
<rect x="326.30" y="49.20" width="3.80" height="3.80" fill="#fff" stroke="#606060" stroke-width="0.7"/>
<text x="340.9" y="53.70" font-family='"Liberation Sans", Arial, sans-serif' font-size="7.15" fill="#222" stroke="#222" stroke-width="0.18">Exp. 0.75<tspan font-style="italic">c</tspan> Stagger</text>
<line x1="318" y1="61.8" x2="337" y2="61.8" stroke="#ff9a3c" stroke-width="0.7" stroke-dasharray="0.8 1.4" opacity="0.4"/>
<circle cx="328.20" cy="61.80" r="1.71" fill="#fff" stroke="#ffa552" stroke-width="0.7"/>
<text x="340.9" y="64.40" font-family='"Liberation Sans", Arial, sans-serif' font-size="7.15" fill="#ff9636" stroke="#ff9636" stroke-width="0.18">CFD. Baseline</text>
<line x1="318" y1="72.7" x2="337" y2="72.7" stroke="#ff9a3c" stroke-width="0.7" stroke-dasharray="0.8 1.4" opacity="0.4"/>
<path d="M328.20 70.81L329.77 74.12L326.63 74.12Z" fill="#fff" stroke="#ffa552" stroke-width="0.7"/>
<text x="340.9" y="75.30" font-family='"Liberation Sans", Arial, sans-serif' font-size="7.15" fill="#ff9636" stroke="#ff9636" stroke-width="0.18">CFD. 0.25<tspan font-style="italic">c</tspan> Stagger</text>
<line x1="318" y1="83.3" x2="337" y2="83.3" stroke="#ff9a3c" stroke-width="0.7" stroke-dasharray="0.8 1.4" opacity="0.4"/>
<path d="M328.20 81.55L329.95 83.30L328.20 85.05L326.45 83.30Z" fill="#fff" stroke="#ffa552" stroke-width="0.7"/>
<text x="340.9" y="85.90" font-family='"Liberation Sans", Arial, sans-serif' font-size="7.15" fill="#ff9636" stroke="#ff9636" stroke-width="0.18">CFD. 0.5<tspan font-style="italic">c</tspan> Stagger</text>
<line x1="318" y1="93.9" x2="337" y2="93.9" stroke="#ff9a3c" stroke-width="0.7" stroke-dasharray="0.8 1.4" opacity="0.4"/>
<rect x="326.30" y="92.00" width="3.80" height="3.80" fill="#fff" stroke="#ffa552" stroke-width="0.7"/>
<text x="340.9" y="96.50" font-family='"Liberation Sans", Arial, sans-serif' font-size="7.15" fill="#ff9636" stroke="#ff9636" stroke-width="0.18">CFD. 0.75<tspan font-style="italic">c</tspan> Stagger</text>
<text x="308.50" y="233.5" text-anchor="middle" font-family='"Liberation Sans", Arial, sans-serif' font-size="7.4" fill="#222">-30</text>
<text x="344.20" y="233.5" text-anchor="middle" font-family='"Liberation Sans", Arial, sans-serif' font-size="7.4" fill="#222">-20</text>
<text x="379.90" y="233.5" text-anchor="middle" font-family='"Liberation Sans", Arial, sans-serif' font-size="7.4" fill="#222">-10</text>
<text x="415.60" y="233.5" text-anchor="middle" font-family='"Liberation Sans", Arial, sans-serif' font-size="7.4" fill="#222">0</text>
<text x="451.30" y="233.5" text-anchor="middle" font-family='"Liberation Sans", Arial, sans-serif' font-size="7.4" fill="#222">10</text>
<text x="487.00" y="233.5" text-anchor="middle" font-family='"Liberation Sans", Arial, sans-serif' font-size="7.4" fill="#222">20</text>
<text x="522.70" y="233.5" text-anchor="middle" font-family='"Liberation Sans", Arial, sans-serif' font-size="7.4" fill="#222">30</text>
<text x="303.20" y="224.60" text-anchor="end" font-family='"Liberation Sans", Arial, sans-serif' font-size="7.4" fill="#222">-2</text>
<text x="303.20" y="181.86" text-anchor="end" font-family='"Liberation Sans", Arial, sans-serif' font-size="7.4" fill="#222">-1</text>
<text x="303.20" y="139.12" text-anchor="end" font-family='"Liberation Sans", Arial, sans-serif' font-size="7.4" fill="#222">0</text>
<text x="303.20" y="96.38" text-anchor="end" font-family='"Liberation Sans", Arial, sans-serif' font-size="7.4" fill="#222">1</text>
<text x="303.20" y="53.64" text-anchor="end" font-family='"Liberation Sans", Arial, sans-serif' font-size="7.4" fill="#222">2</text>
<text x="303.20" y="10.90" text-anchor="end" font-family='"Liberation Sans", Arial, sans-serif' font-size="7.4" fill="#222">3</text>
<text x="421.4" y="246.5" text-anchor="middle" font-family='"Liberation Sans", Arial, sans-serif' font-size="8" font-weight="bold" fill="#1a1a1a">Angle of attack (deg)</text>
<g transform="translate(286.2,131.7) rotate(-90)"><text x="0" y="0" font-family='"Liberation Sans", Arial, sans-serif' font-size="10.4" font-weight="bold" fill="#111">C</text><text x="7.7" y="4.3" font-family='"Liberation Sans", Arial, sans-serif' font-size="6.6" font-weight="bold" font-style="italic" fill="#111">L</text></g>
<text x="414.6" y="277" text-anchor="middle" font-family='"Liberation Serif", serif' font-size="13.5" font-weight="bold" fill="#222">(b)</text></g>
<g><line x1="207.67" y1="289.0" x2="207.67" y2="502.0" stroke="#b4b4b4" stroke-width="0.8" stroke-dasharray="0.9 1.3"/>
<line x1="243.13" y1="289.0" x2="243.13" y2="502.0" stroke="#b4b4b4" stroke-width="0.8" stroke-dasharray="0.9 1.3"/>
<line x1="278.60" y1="289.0" x2="278.60" y2="502.0" stroke="#b4b4b4" stroke-width="0.8" stroke-dasharray="0.9 1.3"/>
<line x1="314.07" y1="289.0" x2="314.07" y2="502.0" stroke="#b4b4b4" stroke-width="0.8" stroke-dasharray="0.9 1.3"/>
<line x1="349.53" y1="289.0" x2="349.53" y2="502.0" stroke="#b4b4b4" stroke-width="0.8" stroke-dasharray="0.9 1.3"/>
<line x1="172.2" y1="459.40" x2="385.0" y2="459.40" stroke="#b4b4b4" stroke-width="0.8" stroke-dasharray="0.9 1.3"/>
<line x1="172.2" y1="416.80" x2="385.0" y2="416.80" stroke="#b4b4b4" stroke-width="0.8" stroke-dasharray="0.9 1.3"/>
<line x1="172.2" y1="374.20" x2="385.0" y2="374.20" stroke="#b4b4b4" stroke-width="0.8" stroke-dasharray="0.9 1.3"/>
<line x1="172.2" y1="331.60" x2="385.0" y2="331.60" stroke="#b4b4b4" stroke-width="0.8" stroke-dasharray="0.9 1.3"/>
<path d="M172.20 502.0v-2.6M172.20 289.0v2.6M179.29 502.0v-1.5M179.29 289.0v1.5M186.39 502.0v-1.5M186.39 289.0v1.5M193.48 502.0v-1.5M193.48 289.0v1.5M200.57 502.0v-1.5M200.57 289.0v1.5M207.67 502.0v-2.6M207.67 289.0v2.6M214.76 502.0v-1.5M214.76 289.0v1.5M221.85 502.0v-1.5M221.85 289.0v1.5M228.95 502.0v-1.5M228.95 289.0v1.5M236.04 502.0v-1.5M236.04 289.0v1.5M243.13 502.0v-2.6M243.13 289.0v2.6M250.23 502.0v-1.5M250.23 289.0v1.5M257.32 502.0v-1.5M257.32 289.0v1.5M264.41 502.0v-1.5M264.41 289.0v1.5M271.51 502.0v-1.5M271.51 289.0v1.5M278.60 502.0v-2.6M278.60 289.0v2.6M285.69 502.0v-1.5M285.69 289.0v1.5M292.79 502.0v-1.5M292.79 289.0v1.5M299.88 502.0v-1.5M299.88 289.0v1.5M306.97 502.0v-1.5M306.97 289.0v1.5M314.07 502.0v-2.6M314.07 289.0v2.6M321.16 502.0v-1.5M321.16 289.0v1.5M328.25 502.0v-1.5M328.25 289.0v1.5M335.35 502.0v-1.5M335.35 289.0v1.5M342.44 502.0v-1.5M342.44 289.0v1.5M349.53 502.0v-2.6M349.53 289.0v2.6M356.63 502.0v-1.5M356.63 289.0v1.5M363.72 502.0v-1.5M363.72 289.0v1.5M370.81 502.0v-1.5M370.81 289.0v1.5M377.91 502.0v-1.5M377.91 289.0v1.5M385.00 502.0v-2.6M385.00 289.0v2.6M172.2 502.00h2.6M385.0 502.00h-2.6M172.2 493.48h1.5M385.0 493.48h-1.5M172.2 484.96h1.5M385.0 484.96h-1.5M172.2 476.44h1.5M385.0 476.44h-1.5M172.2 467.92h1.5M385.0 467.92h-1.5M172.2 459.40h2.6M385.0 459.40h-2.6M172.2 450.88h1.5M385.0 450.88h-1.5M172.2 442.36h1.5M385.0 442.36h-1.5M172.2 433.84h1.5M385.0 433.84h-1.5M172.2 425.32h1.5M385.0 425.32h-1.5M172.2 416.80h2.6M385.0 416.80h-2.6M172.2 408.28h1.5M385.0 408.28h-1.5M172.2 399.76h1.5M385.0 399.76h-1.5M172.2 391.24h1.5M385.0 391.24h-1.5M172.2 382.72h1.5M385.0 382.72h-1.5M172.2 374.20h2.6M385.0 374.20h-2.6M172.2 365.68h1.5M385.0 365.68h-1.5M172.2 357.16h1.5M385.0 357.16h-1.5M172.2 348.64h1.5M385.0 348.64h-1.5M172.2 340.12h1.5M385.0 340.12h-1.5M172.2 331.60h2.6M385.0 331.60h-2.6M172.2 323.08h1.5M385.0 323.08h-1.5M172.2 314.56h1.5M385.0 314.56h-1.5M172.2 306.04h1.5M385.0 306.04h-1.5M172.2 297.52h1.5M385.0 297.52h-1.5M172.2 289.00h2.6M385.0 289.00h-2.6" stroke="#979797" stroke-width="0.8" fill="none"/>
<polyline points="172.20,430.69 179.29,432.14 189.93,434.52 200.57,437.42 207.67,439.80 211.21,441.34 214.76,442.96 218.31,444.75 221.85,446.71 225.40,448.32 228.95,450.45 232.49,453.01 236.04,455.65 239.59,458.97 243.13,462.47 246.68,466.64 250.23,470.48 253.77,473.46 257.32,476.10 260.87,478.83 264.41,478.83 267.96,477.29 271.51,464.77 275.05,439.80 278.60,415.95 282.15,378.03 285.69,352.99 289.24,347.02 292.79,347.02 296.33,348.98 299.88,352.05 303.43,355.97 306.97,361.42 310.52,366.11 314.07,370.79 317.61,374.63 321.16,377.61 324.71,380.59 328.25,383.40 331.80,385.96 335.35,387.83 338.89,389.54 342.44,391.24 345.99,392.69 349.53,394.05 356.63,397.03 367.27,399.85 377.91,402.15 385.00,403.42" fill="none" stroke="#f04e4e" stroke-width="0.65"/>
<circle cx="172.20" cy="430.69" r="1.35" fill="#fff" stroke="#f04e4e" stroke-width="0.65"/>
<circle cx="179.29" cy="432.14" r="1.35" fill="#fff" stroke="#f04e4e" stroke-width="0.65"/>
<circle cx="189.93" cy="434.52" r="1.35" fill="#fff" stroke="#f04e4e" stroke-width="0.65"/>
<circle cx="200.57" cy="437.42" r="1.35" fill="#fff" stroke="#f04e4e" stroke-width="0.65"/>
<circle cx="207.67" cy="439.80" r="1.35" fill="#fff" stroke="#f04e4e" stroke-width="0.65"/>
<circle cx="211.21" cy="441.34" r="1.35" fill="#fff" stroke="#f04e4e" stroke-width="0.65"/>
<circle cx="214.76" cy="442.96" r="1.35" fill="#fff" stroke="#f04e4e" stroke-width="0.65"/>
<circle cx="218.31" cy="444.75" r="1.35" fill="#fff" stroke="#f04e4e" stroke-width="0.65"/>
<circle cx="221.85" cy="446.71" r="1.35" fill="#fff" stroke="#f04e4e" stroke-width="0.65"/>
<circle cx="225.40" cy="448.32" r="1.35" fill="#fff" stroke="#f04e4e" stroke-width="0.65"/>
<circle cx="228.95" cy="450.45" r="1.35" fill="#fff" stroke="#f04e4e" stroke-width="0.65"/>
<circle cx="232.49" cy="453.01" r="1.35" fill="#fff" stroke="#f04e4e" stroke-width="0.65"/>
<circle cx="236.04" cy="455.65" r="1.35" fill="#fff" stroke="#f04e4e" stroke-width="0.65"/>
<circle cx="239.59" cy="458.97" r="1.35" fill="#fff" stroke="#f04e4e" stroke-width="0.65"/>
<circle cx="243.13" cy="462.47" r="1.35" fill="#fff" stroke="#f04e4e" stroke-width="0.65"/>
<circle cx="246.68" cy="466.64" r="1.35" fill="#fff" stroke="#f04e4e" stroke-width="0.65"/>
<circle cx="250.23" cy="470.48" r="1.35" fill="#fff" stroke="#f04e4e" stroke-width="0.65"/>
<circle cx="253.77" cy="473.46" r="1.35" fill="#fff" stroke="#f04e4e" stroke-width="0.65"/>
<circle cx="257.32" cy="476.10" r="1.35" fill="#fff" stroke="#f04e4e" stroke-width="0.65"/>
<circle cx="260.87" cy="478.83" r="1.35" fill="#fff" stroke="#f04e4e" stroke-width="0.65"/>
<circle cx="264.41" cy="478.83" r="1.35" fill="#fff" stroke="#f04e4e" stroke-width="0.65"/>
<circle cx="267.96" cy="477.29" r="1.35" fill="#fff" stroke="#f04e4e" stroke-width="0.65"/>
<circle cx="271.51" cy="464.77" r="1.35" fill="#fff" stroke="#f04e4e" stroke-width="0.65"/>
<circle cx="275.05" cy="439.80" r="1.35" fill="#fff" stroke="#f04e4e" stroke-width="0.65"/>
<circle cx="278.60" cy="415.95" r="1.35" fill="#fff" stroke="#f04e4e" stroke-width="0.65"/>
<circle cx="282.15" cy="378.03" r="1.35" fill="#fff" stroke="#f04e4e" stroke-width="0.65"/>
<circle cx="285.69" cy="352.99" r="1.35" fill="#fff" stroke="#f04e4e" stroke-width="0.65"/>
<circle cx="289.24" cy="347.02" r="1.35" fill="#fff" stroke="#f04e4e" stroke-width="0.65"/>
<circle cx="292.79" cy="347.02" r="1.35" fill="#fff" stroke="#f04e4e" stroke-width="0.65"/>
<circle cx="296.33" cy="348.98" r="1.35" fill="#fff" stroke="#f04e4e" stroke-width="0.65"/>
<circle cx="299.88" cy="352.05" r="1.35" fill="#fff" stroke="#f04e4e" stroke-width="0.65"/>
<circle cx="303.43" cy="355.97" r="1.35" fill="#fff" stroke="#f04e4e" stroke-width="0.65"/>
<circle cx="306.97" cy="361.42" r="1.35" fill="#fff" stroke="#f04e4e" stroke-width="0.65"/>
<circle cx="310.52" cy="366.11" r="1.35" fill="#fff" stroke="#f04e4e" stroke-width="0.65"/>
<circle cx="314.07" cy="370.79" r="1.35" fill="#fff" stroke="#f04e4e" stroke-width="0.65"/>
<circle cx="317.61" cy="374.63" r="1.35" fill="#fff" stroke="#f04e4e" stroke-width="0.65"/>
<circle cx="321.16" cy="377.61" r="1.35" fill="#fff" stroke="#f04e4e" stroke-width="0.65"/>
<circle cx="324.71" cy="380.59" r="1.35" fill="#fff" stroke="#f04e4e" stroke-width="0.65"/>
<circle cx="328.25" cy="383.40" r="1.35" fill="#fff" stroke="#f04e4e" stroke-width="0.65"/>
<circle cx="331.80" cy="385.96" r="1.35" fill="#fff" stroke="#f04e4e" stroke-width="0.65"/>
<circle cx="335.35" cy="387.83" r="1.35" fill="#fff" stroke="#f04e4e" stroke-width="0.65"/>
<circle cx="338.89" cy="389.54" r="1.35" fill="#fff" stroke="#f04e4e" stroke-width="0.65"/>
<circle cx="342.44" cy="391.24" r="1.35" fill="#fff" stroke="#f04e4e" stroke-width="0.65"/>
<circle cx="345.99" cy="392.69" r="1.35" fill="#fff" stroke="#f04e4e" stroke-width="0.65"/>
<circle cx="349.53" cy="394.05" r="1.35" fill="#fff" stroke="#f04e4e" stroke-width="0.65"/>
<circle cx="356.63" cy="397.03" r="1.35" fill="#fff" stroke="#f04e4e" stroke-width="0.65"/>
<circle cx="367.27" cy="399.85" r="1.35" fill="#fff" stroke="#f04e4e" stroke-width="0.65"/>
<circle cx="377.91" cy="402.15" r="1.35" fill="#fff" stroke="#f04e4e" stroke-width="0.65"/>
<circle cx="385.00" cy="403.42" r="1.35" fill="#fff" stroke="#f04e4e" stroke-width="0.65"/>
<polyline points="172.20,430.69 179.29,432.14 189.93,434.52 200.57,437.42 207.67,439.80 211.21,441.34 214.76,442.96 218.31,444.75 221.85,446.71 225.40,448.84 228.95,451.56 232.49,454.71 236.04,459.06 239.59,463.66 243.13,468.77 246.68,474.74 250.23,480.27 253.77,484.96 257.32,488.62 260.87,493.14 264.41,492.03 267.96,479.00 271.51,452.58 275.05,425.32 278.60,374.20 282.15,333.99 285.69,325.98 289.24,328.36 292.79,326.49 296.33,336.03 299.88,346.08 303.43,353.75 306.97,360.99 310.52,366.02 314.07,370.62 317.61,374.63 321.16,377.61 324.71,380.59 328.25,383.40 331.80,385.96 335.35,387.83 338.89,389.54 342.44,391.24 345.99,392.69 349.53,394.05 356.63,397.03 367.27,399.85 377.91,402.15 385.00,403.42" fill="none" stroke="#606060" stroke-width="0.65"/>
<circle cx="172.20" cy="430.69" r="1.35" fill="#fff" stroke="#606060" stroke-width="0.65"/>
<circle cx="179.29" cy="432.14" r="1.35" fill="#fff" stroke="#606060" stroke-width="0.65"/>
<circle cx="189.93" cy="434.52" r="1.35" fill="#fff" stroke="#606060" stroke-width="0.65"/>
<circle cx="200.57" cy="437.42" r="1.35" fill="#fff" stroke="#606060" stroke-width="0.65"/>
<circle cx="207.67" cy="439.80" r="1.35" fill="#fff" stroke="#606060" stroke-width="0.65"/>
<circle cx="211.21" cy="441.34" r="1.35" fill="#fff" stroke="#606060" stroke-width="0.65"/>
<circle cx="214.76" cy="442.96" r="1.35" fill="#fff" stroke="#606060" stroke-width="0.65"/>
<circle cx="218.31" cy="444.75" r="1.35" fill="#fff" stroke="#606060" stroke-width="0.65"/>
<circle cx="221.85" cy="446.71" r="1.35" fill="#fff" stroke="#606060" stroke-width="0.65"/>
<circle cx="225.40" cy="448.84" r="1.35" fill="#fff" stroke="#606060" stroke-width="0.65"/>
<circle cx="228.95" cy="451.56" r="1.35" fill="#fff" stroke="#606060" stroke-width="0.65"/>
<circle cx="232.49" cy="454.71" r="1.35" fill="#fff" stroke="#606060" stroke-width="0.65"/>
<circle cx="236.04" cy="459.06" r="1.35" fill="#fff" stroke="#606060" stroke-width="0.65"/>
<circle cx="239.59" cy="463.66" r="1.35" fill="#fff" stroke="#606060" stroke-width="0.65"/>
<circle cx="243.13" cy="468.77" r="1.35" fill="#fff" stroke="#606060" stroke-width="0.65"/>
<circle cx="246.68" cy="474.74" r="1.35" fill="#fff" stroke="#606060" stroke-width="0.65"/>
<circle cx="250.23" cy="480.27" r="1.35" fill="#fff" stroke="#606060" stroke-width="0.65"/>
<circle cx="253.77" cy="484.96" r="1.35" fill="#fff" stroke="#606060" stroke-width="0.65"/>
<circle cx="257.32" cy="488.62" r="1.35" fill="#fff" stroke="#606060" stroke-width="0.65"/>
<circle cx="260.87" cy="493.14" r="1.35" fill="#fff" stroke="#606060" stroke-width="0.65"/>
<circle cx="264.41" cy="492.03" r="1.35" fill="#fff" stroke="#606060" stroke-width="0.65"/>
<circle cx="267.96" cy="479.00" r="1.35" fill="#fff" stroke="#606060" stroke-width="0.65"/>
<circle cx="271.51" cy="452.58" r="1.35" fill="#fff" stroke="#606060" stroke-width="0.65"/>
<circle cx="275.05" cy="425.32" r="1.35" fill="#fff" stroke="#606060" stroke-width="0.65"/>
<circle cx="278.60" cy="374.20" r="1.35" fill="#fff" stroke="#606060" stroke-width="0.65"/>
<circle cx="282.15" cy="333.99" r="1.35" fill="#fff" stroke="#606060" stroke-width="0.65"/>
<circle cx="285.69" cy="325.98" r="1.35" fill="#fff" stroke="#606060" stroke-width="0.65"/>
<circle cx="289.24" cy="328.36" r="1.35" fill="#fff" stroke="#606060" stroke-width="0.65"/>
<circle cx="292.79" cy="326.49" r="1.35" fill="#fff" stroke="#606060" stroke-width="0.65"/>
<circle cx="296.33" cy="336.03" r="1.35" fill="#fff" stroke="#606060" stroke-width="0.65"/>
<circle cx="299.88" cy="346.08" r="1.35" fill="#fff" stroke="#606060" stroke-width="0.65"/>
<circle cx="303.43" cy="353.75" r="1.35" fill="#fff" stroke="#606060" stroke-width="0.65"/>
<circle cx="306.97" cy="360.99" r="1.35" fill="#fff" stroke="#606060" stroke-width="0.65"/>
<circle cx="310.52" cy="366.02" r="1.35" fill="#fff" stroke="#606060" stroke-width="0.65"/>
<circle cx="314.07" cy="370.62" r="1.35" fill="#fff" stroke="#606060" stroke-width="0.65"/>
<circle cx="317.61" cy="374.63" r="1.35" fill="#fff" stroke="#606060" stroke-width="0.65"/>
<circle cx="321.16" cy="377.61" r="1.35" fill="#fff" stroke="#606060" stroke-width="0.65"/>
<circle cx="324.71" cy="380.59" r="1.35" fill="#fff" stroke="#606060" stroke-width="0.65"/>
<circle cx="328.25" cy="383.40" r="1.35" fill="#fff" stroke="#606060" stroke-width="0.65"/>
<circle cx="331.80" cy="385.96" r="1.35" fill="#fff" stroke="#606060" stroke-width="0.65"/>
<circle cx="335.35" cy="387.83" r="1.35" fill="#fff" stroke="#606060" stroke-width="0.65"/>
<circle cx="338.89" cy="389.54" r="1.35" fill="#fff" stroke="#606060" stroke-width="0.65"/>
<circle cx="342.44" cy="391.24" r="1.35" fill="#fff" stroke="#606060" stroke-width="0.65"/>
<circle cx="345.99" cy="392.69" r="1.35" fill="#fff" stroke="#606060" stroke-width="0.65"/>
<circle cx="349.53" cy="394.05" r="1.35" fill="#fff" stroke="#606060" stroke-width="0.65"/>
<circle cx="356.63" cy="397.03" r="1.35" fill="#fff" stroke="#606060" stroke-width="0.65"/>
<circle cx="367.27" cy="399.85" r="1.35" fill="#fff" stroke="#606060" stroke-width="0.65"/>
<circle cx="377.91" cy="402.15" r="1.35" fill="#fff" stroke="#606060" stroke-width="0.65"/>
<circle cx="385.00" cy="403.42" r="1.35" fill="#fff" stroke="#606060" stroke-width="0.65"/>
<polyline points="172.20,431.88 179.29,433.33 189.93,435.71 200.57,438.61 207.67,441.00 211.21,442.53 214.76,444.15 218.31,445.94 221.85,447.90 225.40,450.03 228.95,452.75 232.49,455.91 236.04,458.55 239.59,462.81 243.13,467.07 246.68,472.18 250.23,477.29 253.77,481.55 257.32,485.22 260.87,486.32 264.41,489.73 267.96,484.11 271.51,455.65 275.05,429.58 278.60,391.24 282.15,352.90 285.69,340.97 289.24,341.99 292.79,340.38 296.33,350.00 299.88,350.00 303.43,355.03 306.97,361.42 310.52,366.53 314.07,371.22 317.61,375.05 321.16,378.03 324.71,381.02 328.25,383.57 331.80,386.13 335.35,388.00 338.89,389.71 342.44,391.41 345.99,392.86 349.53,394.22 356.63,397.20 367.27,400.02 377.91,402.32 385.00,403.59" fill="none" stroke="#4040f2" stroke-width="0.65"/>
<path d="M172.20 430.34L173.48 433.03L170.92 433.03Z" fill="#fff" stroke="#4040f2" stroke-width="0.65"/>
<path d="M179.29 431.79L180.58 434.48L178.01 434.48Z" fill="#fff" stroke="#4040f2" stroke-width="0.65"/>
<path d="M189.93 434.18L191.22 436.87L188.65 436.87Z" fill="#fff" stroke="#4040f2" stroke-width="0.65"/>
<path d="M200.57 437.07L201.86 439.77L199.29 439.77Z" fill="#fff" stroke="#4040f2" stroke-width="0.65"/>
<path d="M207.67 439.46L208.95 442.15L206.38 442.15Z" fill="#fff" stroke="#4040f2" stroke-width="0.65"/>
<path d="M211.21 440.99L212.50 443.68L209.93 443.68Z" fill="#fff" stroke="#4040f2" stroke-width="0.65"/>
<path d="M214.76 442.61L216.04 445.30L213.48 445.30Z" fill="#fff" stroke="#4040f2" stroke-width="0.65"/>
<path d="M218.31 444.40L219.59 447.09L217.02 447.09Z" fill="#fff" stroke="#4040f2" stroke-width="0.65"/>
<path d="M221.85 446.36L223.14 449.05L220.57 449.05Z" fill="#fff" stroke="#4040f2" stroke-width="0.65"/>
<path d="M225.40 448.49L226.68 451.18L224.12 451.18Z" fill="#fff" stroke="#4040f2" stroke-width="0.65"/>
<path d="M228.95 451.22L230.23 453.91L227.66 453.91Z" fill="#fff" stroke="#4040f2" stroke-width="0.65"/>
<path d="M232.49 454.37L233.78 457.06L231.21 457.06Z" fill="#fff" stroke="#4040f2" stroke-width="0.65"/>
<path d="M236.04 457.01L237.32 459.70L234.76 459.70Z" fill="#fff" stroke="#4040f2" stroke-width="0.65"/>
<path d="M239.59 461.27L240.87 463.96L238.30 463.96Z" fill="#fff" stroke="#4040f2" stroke-width="0.65"/>
<path d="M243.13 465.53L244.42 468.22L241.85 468.22Z" fill="#fff" stroke="#4040f2" stroke-width="0.65"/>
<path d="M246.68 470.64L247.96 473.33L245.40 473.33Z" fill="#fff" stroke="#4040f2" stroke-width="0.65"/>
<path d="M250.23 475.75L251.51 478.45L248.94 478.45Z" fill="#fff" stroke="#4040f2" stroke-width="0.65"/>
<path d="M253.77 480.01L255.06 482.71L252.49 482.71Z" fill="#fff" stroke="#4040f2" stroke-width="0.65"/>
<path d="M257.32 483.68L258.60 486.37L256.04 486.37Z" fill="#fff" stroke="#4040f2" stroke-width="0.65"/>
<path d="M260.87 484.78L262.15 487.48L259.58 487.48Z" fill="#fff" stroke="#4040f2" stroke-width="0.65"/>
<path d="M264.41 488.19L265.70 490.89L263.13 490.89Z" fill="#fff" stroke="#4040f2" stroke-width="0.65"/>
<path d="M267.96 482.57L269.24 485.26L266.68 485.26Z" fill="#fff" stroke="#4040f2" stroke-width="0.65"/>
<path d="M271.51 454.11L272.79 456.81L270.22 456.81Z" fill="#fff" stroke="#4040f2" stroke-width="0.65"/>
<path d="M275.05 428.04L276.34 430.73L273.77 430.73Z" fill="#fff" stroke="#4040f2" stroke-width="0.65"/>
<path d="M278.60 389.70L279.88 392.39L277.32 392.39Z" fill="#fff" stroke="#4040f2" stroke-width="0.65"/>
<path d="M282.15 351.36L283.43 354.05L280.86 354.05Z" fill="#fff" stroke="#4040f2" stroke-width="0.65"/>
<path d="M285.69 339.43L286.98 342.13L284.41 342.13Z" fill="#fff" stroke="#4040f2" stroke-width="0.65"/>
<path d="M289.24 340.46L290.52 343.15L287.96 343.15Z" fill="#fff" stroke="#4040f2" stroke-width="0.65"/>
<path d="M292.79 338.84L294.07 341.53L291.50 341.53Z" fill="#fff" stroke="#4040f2" stroke-width="0.65"/>
<path d="M296.33 348.46L297.62 351.16L295.05 351.16Z" fill="#fff" stroke="#4040f2" stroke-width="0.65"/>
<path d="M299.88 348.46L301.16 351.16L298.60 351.16Z" fill="#fff" stroke="#4040f2" stroke-width="0.65"/>
<path d="M303.43 353.49L304.71 356.18L302.14 356.18Z" fill="#fff" stroke="#4040f2" stroke-width="0.65"/>
<path d="M306.97 359.88L308.26 362.57L305.69 362.57Z" fill="#fff" stroke="#4040f2" stroke-width="0.65"/>
<path d="M310.52 364.99L311.80 367.69L309.24 367.69Z" fill="#fff" stroke="#4040f2" stroke-width="0.65"/>
<path d="M314.07 369.68L315.35 372.37L312.78 372.37Z" fill="#fff" stroke="#4040f2" stroke-width="0.65"/>
<path d="M317.61 373.51L318.90 376.21L316.33 376.21Z" fill="#fff" stroke="#4040f2" stroke-width="0.65"/>
<path d="M321.16 376.50L322.44 379.19L319.88 379.19Z" fill="#fff" stroke="#4040f2" stroke-width="0.65"/>
<path d="M324.71 379.48L325.99 382.17L323.42 382.17Z" fill="#fff" stroke="#4040f2" stroke-width="0.65"/>
<path d="M328.25 382.03L329.54 384.73L326.97 384.73Z" fill="#fff" stroke="#4040f2" stroke-width="0.65"/>
<path d="M331.80 384.59L333.08 387.28L330.52 387.28Z" fill="#fff" stroke="#4040f2" stroke-width="0.65"/>
<path d="M335.35 386.46L336.63 389.16L334.06 389.16Z" fill="#fff" stroke="#4040f2" stroke-width="0.65"/>
<path d="M338.89 388.17L340.18 390.86L337.61 390.86Z" fill="#fff" stroke="#4040f2" stroke-width="0.65"/>
<path d="M342.44 389.87L343.72 392.56L341.16 392.56Z" fill="#fff" stroke="#4040f2" stroke-width="0.65"/>
<path d="M345.99 391.32L347.27 394.01L344.70 394.01Z" fill="#fff" stroke="#4040f2" stroke-width="0.65"/>
<path d="M349.53 392.68L350.82 395.38L348.25 395.38Z" fill="#fff" stroke="#4040f2" stroke-width="0.65"/>
<path d="M356.63 395.67L357.91 398.36L355.34 398.36Z" fill="#fff" stroke="#4040f2" stroke-width="0.65"/>
<path d="M367.27 398.48L368.55 401.17L365.98 401.17Z" fill="#fff" stroke="#4040f2" stroke-width="0.65"/>
<path d="M377.91 400.78L379.19 403.47L376.62 403.47Z" fill="#fff" stroke="#4040f2" stroke-width="0.65"/>
<path d="M385.00 402.06L386.28 404.75L383.72 404.75Z" fill="#fff" stroke="#4040f2" stroke-width="0.65"/>
<polyline points="172.20,429.67 179.29,431.11 189.93,433.50 200.57,436.40 207.67,438.78 211.21,440.32 214.76,441.93 218.31,443.72 221.85,445.68 225.40,447.81 228.95,450.54 232.49,453.69 236.04,460.25 239.59,465.36 243.13,470.48 246.68,476.87 250.23,483.00 253.77,488.37 257.32,493.14 260.87,495.44 264.41,495.01 267.96,477.29 271.51,447.73 275.05,423.87 278.60,385.02 282.15,355.97 285.69,350.00 289.24,349.49 292.79,351.62 296.33,355.03 299.88,359.97 303.43,365.00 306.97,369.09 310.52,371.98 314.07,375.05 317.61,377.61 321.16,380.16 324.71,382.72 328.25,385.11 331.80,387.41 335.35,389.11 338.89,390.81 342.44,392.26 345.99,393.63 349.53,394.90 356.63,397.63 367.27,400.36 377.91,402.49 385.00,403.76" fill="none" stroke="#3aa43a" stroke-width="0.65"/>
<path d="M172.20 428.34L173.52 429.67L172.20 430.99L170.88 429.67Z" fill="#fff" stroke="#3aa43a" stroke-width="0.65"/>
<path d="M179.29 429.79L180.62 431.11L179.29 432.44L177.97 431.11Z" fill="#fff" stroke="#3aa43a" stroke-width="0.65"/>
<path d="M189.93 432.18L191.26 433.50L189.93 434.82L188.61 433.50Z" fill="#fff" stroke="#3aa43a" stroke-width="0.65"/>
<path d="M200.57 435.07L201.90 436.40L200.57 437.72L199.25 436.40Z" fill="#fff" stroke="#3aa43a" stroke-width="0.65"/>
<path d="M207.67 437.46L208.99 438.78L207.67 440.10L206.34 438.78Z" fill="#fff" stroke="#3aa43a" stroke-width="0.65"/>
<path d="M211.21 438.99L212.54 440.32L211.21 441.64L209.89 440.32Z" fill="#fff" stroke="#3aa43a" stroke-width="0.65"/>
<path d="M214.76 440.61L216.08 441.93L214.76 443.26L213.44 441.93Z" fill="#fff" stroke="#3aa43a" stroke-width="0.65"/>
<path d="M218.31 442.40L219.63 443.72L218.31 445.05L216.98 443.72Z" fill="#fff" stroke="#3aa43a" stroke-width="0.65"/>
<path d="M221.85 444.36L223.18 445.68L221.85 447.01L220.53 445.68Z" fill="#fff" stroke="#3aa43a" stroke-width="0.65"/>
<path d="M225.40 446.49L226.72 447.81L225.40 449.14L224.08 447.81Z" fill="#fff" stroke="#3aa43a" stroke-width="0.65"/>
<path d="M228.95 449.22L230.27 450.54L228.95 451.86L227.62 450.54Z" fill="#fff" stroke="#3aa43a" stroke-width="0.65"/>
<path d="M232.49 452.37L233.82 453.69L232.49 455.01L231.17 453.69Z" fill="#fff" stroke="#3aa43a" stroke-width="0.65"/>
<path d="M236.04 458.93L237.36 460.25L236.04 461.57L234.72 460.25Z" fill="#fff" stroke="#3aa43a" stroke-width="0.65"/>
<path d="M239.59 464.04L240.91 465.36L239.59 466.69L238.26 465.36Z" fill="#fff" stroke="#3aa43a" stroke-width="0.65"/>
<path d="M243.13 469.15L244.46 470.48L243.13 471.80L241.81 470.48Z" fill="#fff" stroke="#3aa43a" stroke-width="0.65"/>
<path d="M246.68 475.54L248.00 476.87L246.68 478.19L245.36 476.87Z" fill="#fff" stroke="#3aa43a" stroke-width="0.65"/>
<path d="M250.23 481.68L251.55 483.00L250.23 484.32L248.90 483.00Z" fill="#fff" stroke="#3aa43a" stroke-width="0.65"/>
<path d="M253.77 487.05L255.10 488.37L253.77 489.69L252.45 488.37Z" fill="#fff" stroke="#3aa43a" stroke-width="0.65"/>
<path d="M257.32 491.82L258.64 493.14L257.32 494.46L256.00 493.14Z" fill="#fff" stroke="#3aa43a" stroke-width="0.65"/>
<path d="M260.87 494.12L262.19 495.44L260.87 496.76L259.54 495.44Z" fill="#fff" stroke="#3aa43a" stroke-width="0.65"/>
<path d="M264.41 493.69L265.74 495.01L264.41 496.34L263.09 495.01Z" fill="#fff" stroke="#3aa43a" stroke-width="0.65"/>
<path d="M267.96 475.97L269.28 477.29L267.96 478.61L266.64 477.29Z" fill="#fff" stroke="#3aa43a" stroke-width="0.65"/>
<path d="M271.51 446.40L272.83 447.73L271.51 449.05L270.18 447.73Z" fill="#fff" stroke="#3aa43a" stroke-width="0.65"/>
<path d="M275.05 422.55L276.38 423.87L275.05 425.19L273.73 423.87Z" fill="#fff" stroke="#3aa43a" stroke-width="0.65"/>
<path d="M278.60 383.70L279.92 385.02L278.60 386.34L277.28 385.02Z" fill="#fff" stroke="#3aa43a" stroke-width="0.65"/>
<path d="M282.15 354.64L283.47 355.97L282.15 357.29L280.82 355.97Z" fill="#fff" stroke="#3aa43a" stroke-width="0.65"/>
<path d="M285.69 348.68L287.02 350.00L285.69 351.33L284.37 350.00Z" fill="#fff" stroke="#3aa43a" stroke-width="0.65"/>
<path d="M289.24 348.17L290.56 349.49L289.24 350.81L287.92 349.49Z" fill="#fff" stroke="#3aa43a" stroke-width="0.65"/>
<path d="M292.79 350.30L294.11 351.62L292.79 352.94L291.46 351.62Z" fill="#fff" stroke="#3aa43a" stroke-width="0.65"/>
<path d="M296.33 353.71L297.66 355.03L296.33 356.35L295.01 355.03Z" fill="#fff" stroke="#3aa43a" stroke-width="0.65"/>
<path d="M299.88 358.65L301.20 359.97L299.88 361.29L298.56 359.97Z" fill="#fff" stroke="#3aa43a" stroke-width="0.65"/>
<path d="M303.43 363.68L304.75 365.00L303.43 366.32L302.10 365.00Z" fill="#fff" stroke="#3aa43a" stroke-width="0.65"/>
<path d="M306.97 367.76L308.30 369.09L306.97 370.41L305.65 369.09Z" fill="#fff" stroke="#3aa43a" stroke-width="0.65"/>
<path d="M310.52 370.66L311.84 371.98L310.52 373.31L309.20 371.98Z" fill="#fff" stroke="#3aa43a" stroke-width="0.65"/>
<path d="M314.07 373.73L315.39 375.05L314.07 376.38L312.74 375.05Z" fill="#fff" stroke="#3aa43a" stroke-width="0.65"/>
<path d="M317.61 376.29L318.94 377.61L317.61 378.93L316.29 377.61Z" fill="#fff" stroke="#3aa43a" stroke-width="0.65"/>
<path d="M321.16 378.84L322.48 380.16L321.16 381.49L319.84 380.16Z" fill="#fff" stroke="#3aa43a" stroke-width="0.65"/>
<path d="M324.71 381.40L326.03 382.72L324.71 384.04L323.38 382.72Z" fill="#fff" stroke="#3aa43a" stroke-width="0.65"/>
<path d="M328.25 383.78L329.58 385.11L328.25 386.43L326.93 385.11Z" fill="#fff" stroke="#3aa43a" stroke-width="0.65"/>
<path d="M331.80 386.08L333.12 387.41L331.80 388.73L330.48 387.41Z" fill="#fff" stroke="#3aa43a" stroke-width="0.65"/>
<path d="M335.35 387.79L336.67 389.11L335.35 390.43L334.02 389.11Z" fill="#fff" stroke="#3aa43a" stroke-width="0.65"/>
<path d="M338.89 389.49L340.22 390.81L338.89 392.14L337.57 390.81Z" fill="#fff" stroke="#3aa43a" stroke-width="0.65"/>
<path d="M342.44 390.94L343.76 392.26L342.44 393.59L341.12 392.26Z" fill="#fff" stroke="#3aa43a" stroke-width="0.65"/>
<path d="M345.99 392.30L347.31 393.63L345.99 394.95L344.66 393.63Z" fill="#fff" stroke="#3aa43a" stroke-width="0.65"/>
<path d="M349.53 393.58L350.86 394.90L349.53 396.23L348.21 394.90Z" fill="#fff" stroke="#3aa43a" stroke-width="0.65"/>
<path d="M356.63 396.31L357.95 397.63L356.63 398.95L355.30 397.63Z" fill="#fff" stroke="#3aa43a" stroke-width="0.65"/>
<path d="M367.27 399.03L368.59 400.36L367.27 401.68L365.94 400.36Z" fill="#fff" stroke="#3aa43a" stroke-width="0.65"/>
<path d="M377.91 401.16L379.23 402.49L377.91 403.81L376.58 402.49Z" fill="#fff" stroke="#3aa43a" stroke-width="0.65"/>
<path d="M385.00 402.44L386.32 403.76L385.00 405.09L383.68 403.76Z" fill="#fff" stroke="#3aa43a" stroke-width="0.65"/>
<polyline points="278.60,416.80 296.33,349.49 314.07,369.94 331.80,385.28 349.53,393.80 367.27,399.76 385.00,403.17" fill="none" stroke="#ff9a3c" stroke-width="0.7" stroke-dasharray="0.8 1.4" opacity="0.75"/>
<circle cx="278.60" cy="416.80" r="1.15" fill="#fff" stroke="#ffa552" stroke-width="0.65"/>
<circle cx="296.33" cy="349.49" r="1.15" fill="#fff" stroke="#ffa552" stroke-width="0.65"/>
<circle cx="314.07" cy="369.94" r="1.15" fill="#fff" stroke="#ffa552" stroke-width="0.65"/>
<circle cx="331.80" cy="385.28" r="1.15" fill="#fff" stroke="#ffa552" stroke-width="0.65"/>
<circle cx="349.53" cy="393.80" r="1.15" fill="#fff" stroke="#ffa552" stroke-width="0.65"/>
<circle cx="367.27" cy="399.76" r="1.15" fill="#fff" stroke="#ffa552" stroke-width="0.65"/>
<circle cx="385.00" cy="403.17" r="1.15" fill="#fff" stroke="#ffa552" stroke-width="0.65"/>
<polyline points="278.60,386.98 296.33,343.53 314.07,369.09 331.80,385.28 349.53,393.80 367.27,399.76 385.00,403.17" fill="none" stroke="#ff9a3c" stroke-width="0.7" stroke-dasharray="0.8 1.4" opacity="0.75"/>
<path d="M278.60 385.67L279.69 387.96L277.51 387.96Z" fill="#fff" stroke="#ffa552" stroke-width="0.65"/>
<path d="M296.33 342.22L297.43 344.51L295.24 344.51Z" fill="#fff" stroke="#ffa552" stroke-width="0.65"/>
<path d="M314.07 367.78L315.16 370.07L312.97 370.07Z" fill="#fff" stroke="#ffa552" stroke-width="0.65"/>
<path d="M331.80 383.97L332.89 386.26L330.71 386.26Z" fill="#fff" stroke="#ffa552" stroke-width="0.65"/>
<path d="M349.53 392.49L350.63 394.78L348.44 394.78Z" fill="#fff" stroke="#ffa552" stroke-width="0.65"/>
<path d="M367.27 398.45L368.36 400.74L366.17 400.74Z" fill="#fff" stroke="#ffa552" stroke-width="0.65"/>
<path d="M385.00 401.86L386.09 404.15L383.91 404.15Z" fill="#fff" stroke="#ffa552" stroke-width="0.65"/>
<polyline points="278.60,364.83 296.33,338.42 314.07,369.09 331.80,385.28 349.53,393.80 367.27,399.76 385.00,403.17" fill="none" stroke="#ff9a3c" stroke-width="0.7" stroke-dasharray="0.8 1.4" opacity="0.75"/>
<path d="M278.60 363.70L279.73 364.83L278.60 365.95L277.47 364.83Z" fill="#fff" stroke="#ffa552" stroke-width="0.65"/>
<path d="M296.33 337.29L297.46 338.42L296.33 339.54L295.21 338.42Z" fill="#fff" stroke="#ffa552" stroke-width="0.65"/>
<path d="M314.07 367.96L315.19 369.09L314.07 370.21L312.94 369.09Z" fill="#fff" stroke="#ffa552" stroke-width="0.65"/>
<path d="M331.80 384.15L332.93 385.28L331.80 386.40L330.67 385.28Z" fill="#fff" stroke="#ffa552" stroke-width="0.65"/>
<path d="M349.53 392.67L350.66 393.80L349.53 394.92L348.41 393.80Z" fill="#fff" stroke="#ffa552" stroke-width="0.65"/>
<path d="M367.27 398.63L368.39 399.76L367.27 400.89L366.14 399.76Z" fill="#fff" stroke="#ffa552" stroke-width="0.65"/>
<path d="M385.00 402.04L386.13 403.17L385.00 404.30L383.87 403.17Z" fill="#fff" stroke="#ffa552" stroke-width="0.65"/>
<polyline points="278.60,356.31 296.33,331.00 314.07,369.09 331.80,385.28 349.53,393.80 367.27,399.76 385.00,403.17" fill="none" stroke="#ff9a3c" stroke-width="0.7" stroke-dasharray="0.8 1.4" opacity="0.75"/>
<rect x="277.45" y="355.16" width="2.30" height="2.30" fill="#fff" stroke="#ffa552" stroke-width="0.65"/>
<rect x="295.18" y="329.85" width="2.30" height="2.30" fill="#fff" stroke="#ffa552" stroke-width="0.65"/>
<rect x="312.92" y="367.94" width="2.30" height="2.30" fill="#fff" stroke="#ffa552" stroke-width="0.65"/>
<rect x="330.65" y="384.13" width="2.30" height="2.30" fill="#fff" stroke="#ffa552" stroke-width="0.65"/>
<rect x="348.38" y="392.65" width="2.30" height="2.30" fill="#fff" stroke="#ffa552" stroke-width="0.65"/>
<rect x="366.12" y="398.61" width="2.30" height="2.30" fill="#fff" stroke="#ffa552" stroke-width="0.65"/>
<rect x="383.85" y="402.02" width="2.30" height="2.30" fill="#fff" stroke="#ffa552" stroke-width="0.65"/>
<rect x="286.5" y="429" width="85.0" height="57" fill="#fff"/>
<path d="M292 437.5L351.1 437.5L321.6 440.5Z" fill="#fff" stroke="#111" stroke-width="1.0" stroke-linejoin="round"/>
<line x1="292" y1="437.5" x2="351.1" y2="437.5" stroke="#111" stroke-width="1.3"/>
<path d="M306.8 464.3L365.9 464.3L335.7 461.2Z" fill="#fff" stroke="#111" stroke-width="1.0" stroke-linejoin="round"/>
<line x1="306.8" y1="464.3" x2="365.9" y2="464.3" stroke="#111" stroke-width="1.3"/>
<text x="286.8" y="480.7" font-family='"Liberation Serif", serif' font-size="11.6" fill="#1c1c1c" stroke="#1c1c1c" stroke-width="0.22" textLength="82.5" lengthAdjust="spacingAndGlyphs">Staggered models</text>
<rect x="172.2" y="289.0" width="212.80" height="213.00" fill="none" stroke="#979797" stroke-width="1"/>
<rect x="174.8" y="292.7" width="93.30" height="79.40" fill="#fff" stroke="#2a2a2a" stroke-width="1.1"/>
<line x1="178.5" y1="299.6" x2="197.9" y2="299.6" stroke="#f04e4e" stroke-width="0.6"/>
<circle cx="189.00" cy="299.60" r="1.30" fill="#fff" stroke="#f04e4e" stroke-width="0.65"/>
<text x="201.5" y="302.20" font-family='"Liberation Sans", Arial, sans-serif' font-size="7.15" fill="#e33a3a" stroke="#e33a3a" stroke-width="0.18">Exp. Baseline</text>
<line x1="178.5" y1="308.8" x2="197.9" y2="308.8" stroke="#4040f2" stroke-width="0.6"/>
<path d="M189.00 307.10L190.42 310.08L187.58 310.08Z" fill="#fff" stroke="#4040f2" stroke-width="0.65"/>
<text x="201.5" y="311.40" font-family='"Liberation Sans", Arial, sans-serif' font-size="7.15" fill="#2828e8" stroke="#2828e8" stroke-width="0.18">Exp. 0.25<tspan font-style="italic">c</tspan> Stagger</text>
<line x1="178.5" y1="318.1" x2="197.9" y2="318.1" stroke="#3aa43a" stroke-width="0.6"/>
<path d="M189.00 316.63L190.47 318.10L189.00 319.57L187.53 318.10Z" fill="#fff" stroke="#3aa43a" stroke-width="0.65"/>
<text x="201.5" y="320.70" font-family='"Liberation Sans", Arial, sans-serif' font-size="7.15" fill="#2a982a" stroke="#2a982a" stroke-width="0.18">Exp. 0.5<tspan font-style="italic">c</tspan> Stagger</text>
<line x1="178.5" y1="327.4" x2="197.9" y2="327.4" stroke="#606060" stroke-width="0.6"/>
<rect x="187.70" y="326.10" width="2.60" height="2.60" fill="#fff" stroke="#606060" stroke-width="0.65"/>
<text x="201.5" y="330.00" font-family='"Liberation Sans", Arial, sans-serif' font-size="7.15" fill="#222" stroke="#222" stroke-width="0.18">Exp. 0.75<tspan font-style="italic">c</tspan> Stagger</text>
<line x1="178.5" y1="336.9" x2="197.9" y2="336.9" stroke="#ff9a3c" stroke-width="0.7" stroke-dasharray="0.8 1.4" opacity="0.4"/>
<circle cx="189.00" cy="336.90" r="1.17" fill="#fff" stroke="#ffa552" stroke-width="0.65"/>
<text x="201.5" y="339.50" font-family='"Liberation Sans", Arial, sans-serif' font-size="7.15" fill="#ff9636" stroke="#ff9636" stroke-width="0.18">CFD. Baseline</text>
<line x1="178.5" y1="346.5" x2="197.9" y2="346.5" stroke="#ff9a3c" stroke-width="0.7" stroke-dasharray="0.8 1.4" opacity="0.4"/>
<path d="M189.00 344.80L190.42 347.78L187.58 347.78Z" fill="#fff" stroke="#ffa552" stroke-width="0.65"/>
<text x="201.5" y="349.10" font-family='"Liberation Sans", Arial, sans-serif' font-size="7.15" fill="#ff9636" stroke="#ff9636" stroke-width="0.18">CFD. 0.25<tspan font-style="italic">c</tspan> Stagger</text>
<line x1="178.5" y1="356.0" x2="197.9" y2="356.0" stroke="#ff9a3c" stroke-width="0.7" stroke-dasharray="0.8 1.4" opacity="0.4"/>
<path d="M189.00 354.53L190.47 356.00L189.00 357.47L187.53 356.00Z" fill="#fff" stroke="#ffa552" stroke-width="0.65"/>
<text x="201.5" y="358.60" font-family='"Liberation Sans", Arial, sans-serif' font-size="7.15" fill="#ff9636" stroke="#ff9636" stroke-width="0.18">CFD. 0.5<tspan font-style="italic">c</tspan> Stagger</text>
<line x1="178.5" y1="365.3" x2="197.9" y2="365.3" stroke="#ff9a3c" stroke-width="0.7" stroke-dasharray="0.8 1.4" opacity="0.4"/>
<rect x="187.70" y="364.00" width="2.60" height="2.60" fill="#fff" stroke="#ffa552" stroke-width="0.65"/>
<text x="201.5" y="367.90" font-family='"Liberation Sans", Arial, sans-serif' font-size="7.15" fill="#ff9636" stroke="#ff9636" stroke-width="0.18">CFD. 0.75<tspan font-style="italic">c</tspan> Stagger</text>
<text x="172.20" y="512.9" text-anchor="middle" font-family='"Liberation Sans", Arial, sans-serif' font-size="7.4" fill="#222">-30</text>
<text x="207.67" y="512.9" text-anchor="middle" font-family='"Liberation Sans", Arial, sans-serif' font-size="7.4" fill="#222">-20</text>
<text x="243.13" y="512.9" text-anchor="middle" font-family='"Liberation Sans", Arial, sans-serif' font-size="7.4" fill="#222">-10</text>
<text x="278.60" y="512.9" text-anchor="middle" font-family='"Liberation Sans", Arial, sans-serif' font-size="7.4" fill="#222">0</text>
<text x="314.07" y="512.9" text-anchor="middle" font-family='"Liberation Sans", Arial, sans-serif' font-size="7.4" fill="#222">10</text>
<text x="349.53" y="512.9" text-anchor="middle" font-family='"Liberation Sans", Arial, sans-serif' font-size="7.4" fill="#222">20</text>
<text x="385.00" y="512.9" text-anchor="middle" font-family='"Liberation Sans", Arial, sans-serif' font-size="7.4" fill="#222">30</text>
<text x="167.00" y="504.40" text-anchor="end" font-family='"Liberation Sans", Arial, sans-serif' font-size="7.4" fill="#222">-10</text>
<text x="167.00" y="461.80" text-anchor="end" font-family='"Liberation Sans", Arial, sans-serif' font-size="7.4" fill="#222">-5</text>
<text x="167.00" y="419.20" text-anchor="end" font-family='"Liberation Sans", Arial, sans-serif' font-size="7.4" fill="#222">0</text>
<text x="167.00" y="376.60" text-anchor="end" font-family='"Liberation Sans", Arial, sans-serif' font-size="7.4" fill="#222">5</text>
<text x="167.00" y="334.00" text-anchor="end" font-family='"Liberation Sans", Arial, sans-serif' font-size="7.4" fill="#222">10</text>
<text x="167.00" y="291.40" text-anchor="end" font-family='"Liberation Sans", Arial, sans-serif' font-size="7.4" fill="#222">15</text>
<text x="278.3" y="526.1" text-anchor="middle" font-family='"Liberation Sans", Arial, sans-serif' font-size="8" font-weight="bold" fill="#1a1a1a">Angle of attack (deg)</text>
<g transform="translate(154.0,415.2) rotate(-90)"><text x="0" y="0" font-family='"Liberation Sans", Arial, sans-serif' font-size="10.4" font-weight="bold" font-style="italic" fill="#111">L/D</text></g>
<text x="264.5" y="544" text-anchor="middle" font-family='"Liberation Serif", serif' font-size="13.5" font-weight="bold" fill="#222">(c)</text></g>
</svg>
</body></html>
